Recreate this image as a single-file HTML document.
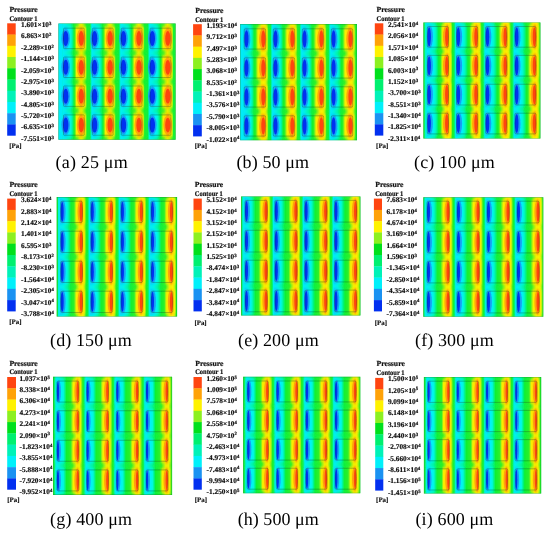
<!DOCTYPE html>
<html lang="en">
<head>
<meta charset="utf-8">
<title>Pressure contours</title>
<style>
html,body{margin:0;padding:0;background:#fff;}
body{width:550px;height:535px;overflow:hidden;}
svg{display:block;}
text{font-family:"Liberation Serif", "DejaVu Serif", serif;fill:#111;text-rendering:geometricPrecision;}
.t{font-weight:bold;font-size:7.7px;stroke:#111;stroke-width:0.2px;}
.l{font-weight:bold;font-size:7.3px;stroke:#111;stroke-width:0.18px;}
.s{font-size:4.8px;}
.t2{font-weight:bold;font-size:7.2px;stroke:#111;stroke-width:0.2px;}
.u{font-weight:bold;font-size:6.9px;stroke:#111;stroke-width:0.15px;}
.c{font-size:18px;fill:#000;}
</style>
</head>
<body>
<svg width="550" height="535" viewBox="0 0 550 535">
<defs>
<filter id="bl" x="-5%" y="-5%" width="110%" height="110%"><feGaussianBlur stdDeviation="0.75"/></filter>
<filter id="bv" x="-5%" y="-5%" width="110%" height="110%"><feGaussianBlur stdDeviation="0.3 1.5"/></filter>
<filter id="b2" x="-5%" y="-5%" width="110%" height="110%"><feGaussianBlur stdDeviation="0.45"/></filter>
<linearGradient id="ga" gradientUnits="userSpaceOnUse" x1="63.5" y1="0" x2="92.37" y2="0" spreadMethod="repeat"><stop offset="0" stop-color="#00e0ff"/><stop offset="0.08" stop-color="#00c8ff"/><stop offset="0.19" stop-color="#00f0ff"/><stop offset="0.26" stop-color="#00f8d8"/><stop offset="0.31" stop-color="#00f498"/><stop offset="0.37" stop-color="#10f030"/><stop offset="0.42" stop-color="#90f018"/><stop offset="0.45" stop-color="#f8f000"/><stop offset="0.54" stop-color="#ffd800"/><stop offset="0.61" stop-color="#ffa008"/><stop offset="0.69" stop-color="#ffd800"/><stop offset="0.75" stop-color="#f8f000"/><stop offset="0.78" stop-color="#a0f018"/><stop offset="0.81" stop-color="#18f030"/><stop offset="0.92" stop-color="#10f040"/><stop offset="0.95" stop-color="#00f8a0"/><stop offset="0.98" stop-color="#00f0f0"/><stop offset="1" stop-color="#00e0ff"/></linearGradient>
<linearGradient id="qa" gradientUnits="userSpaceOnUse" x1="63.5" y1="0" x2="92.37" y2="0" spreadMethod="repeat"><stop offset="0" stop-color="#00f0f0"/><stop offset="0.08" stop-color="#00f4e0"/><stop offset="0.24" stop-color="#00f4a8"/><stop offset="0.35" stop-color="#10f038"/><stop offset="0.47" stop-color="#50f020"/><stop offset="0.55" stop-color="#c0f008"/><stop offset="0.61" stop-color="#e8f000"/><stop offset="0.67" stop-color="#c0f008"/><stop offset="0.75" stop-color="#50f020"/><stop offset="0.8" stop-color="#18f030"/><stop offset="0.92" stop-color="#10f040"/><stop offset="0.95" stop-color="#00f8a0"/><stop offset="0.98" stop-color="#00f0e8"/><stop offset="1" stop-color="#00f0f0"/></linearGradient>
<clipPath id="ca"><rect x="58.4" y="23.4" width="117.2" height="116.3"/></clipPath>
<linearGradient id="gb" gradientUnits="userSpaceOnUse" x1="244.2" y1="0" x2="273.23" y2="0" spreadMethod="repeat"><stop offset="0" stop-color="#00d0ff"/><stop offset="0.09" stop-color="#10b0f8"/><stop offset="0.17" stop-color="#00e8ff"/><stop offset="0.23" stop-color="#00f8e0"/><stop offset="0.29" stop-color="#00f498"/><stop offset="0.34" stop-color="#10f030"/><stop offset="0.4" stop-color="#30f028"/><stop offset="0.44" stop-color="#a0f018"/><stop offset="0.48" stop-color="#f8f000"/><stop offset="0.56" stop-color="#ffd800"/><stop offset="0.61" stop-color="#ffa008"/><stop offset="0.65" stop-color="#ff8008"/><stop offset="0.73" stop-color="#ffc800"/><stop offset="0.77" stop-color="#f8f000"/><stop offset="0.81" stop-color="#a0f018"/><stop offset="0.84" stop-color="#18f030"/><stop offset="0.91" stop-color="#10f040"/><stop offset="0.93" stop-color="#00f8a0"/><stop offset="0.97" stop-color="#00f0f0"/><stop offset="1" stop-color="#00d0ff"/></linearGradient>
<linearGradient id="qb" gradientUnits="userSpaceOnUse" x1="244.2" y1="0" x2="273.23" y2="0" spreadMethod="repeat"><stop offset="0" stop-color="#00ecf8"/><stop offset="0.09" stop-color="#00f4e0"/><stop offset="0.22" stop-color="#00f4a0"/><stop offset="0.33" stop-color="#10f040"/><stop offset="0.46" stop-color="#30f028"/><stop offset="0.53" stop-color="#90f018"/><stop offset="0.6" stop-color="#f0f000"/><stop offset="0.68" stop-color="#fff000"/><stop offset="0.75" stop-color="#d8f008"/><stop offset="0.8" stop-color="#70f018"/><stop offset="0.84" stop-color="#20f028"/><stop offset="0.91" stop-color="#10f050"/><stop offset="0.93" stop-color="#00f490"/><stop offset="0.97" stop-color="#00f0e8"/><stop offset="1" stop-color="#00ecf8"/></linearGradient>
<clipPath id="cb"><rect x="240.1" y="24.1" width="116.9" height="116.2"/></clipPath>
<linearGradient id="gc" gradientUnits="userSpaceOnUse" x1="427.3" y1="0" x2="456.5" y2="0" spreadMethod="repeat"><stop offset="0" stop-color="#10b4f8"/><stop offset="0.12" stop-color="#00d8ff"/><stop offset="0.19" stop-color="#00f0ff"/><stop offset="0.27" stop-color="#00f8d0"/><stop offset="0.33" stop-color="#00f490"/><stop offset="0.39" stop-color="#10f030"/><stop offset="0.45" stop-color="#30f028"/><stop offset="0.49" stop-color="#a0f018"/><stop offset="0.53" stop-color="#f8f000"/><stop offset="0.61" stop-color="#ffd800"/><stop offset="0.65" stop-color="#ffa008"/><stop offset="0.69" stop-color="#ff7008"/><stop offset="0.74" stop-color="#ffd000"/><stop offset="0.79" stop-color="#f8f000"/><stop offset="0.83" stop-color="#a0f018"/><stop offset="0.86" stop-color="#20f028"/><stop offset="0.91" stop-color="#10f040"/><stop offset="0.94" stop-color="#00f490"/><stop offset="0.97" stop-color="#00f0e8"/><stop offset="1" stop-color="#10b4f8"/></linearGradient>
<linearGradient id="qc" gradientUnits="userSpaceOnUse" x1="427.3" y1="0" x2="456.5" y2="0" spreadMethod="repeat"><stop offset="0" stop-color="#00ecf8"/><stop offset="0.1" stop-color="#00f4e0"/><stop offset="0.26" stop-color="#00f4a0"/><stop offset="0.34" stop-color="#10f040"/><stop offset="0.49" stop-color="#30f028"/><stop offset="0.55" stop-color="#90f018"/><stop offset="0.62" stop-color="#f0f000"/><stop offset="0.73" stop-color="#fff000"/><stop offset="0.79" stop-color="#d8f008"/><stop offset="0.83" stop-color="#70f018"/><stop offset="0.86" stop-color="#20f028"/><stop offset="0.91" stop-color="#10f050"/><stop offset="0.94" stop-color="#00f490"/><stop offset="0.97" stop-color="#00f0e8"/><stop offset="1" stop-color="#00ecf8"/></linearGradient>
<clipPath id="cc"><rect x="423.4" y="22.4" width="117" height="116.2"/></clipPath>
<linearGradient id="gd" gradientUnits="userSpaceOnUse" x1="60.8" y1="0" x2="90.9" y2="0" spreadMethod="repeat"><stop offset="0" stop-color="#10b4f8"/><stop offset="0.11" stop-color="#00d8ff"/><stop offset="0.16" stop-color="#00f0ff"/><stop offset="0.23" stop-color="#00f8d0"/><stop offset="0.28" stop-color="#00f490"/><stop offset="0.34" stop-color="#10f030"/><stop offset="0.44" stop-color="#30f028"/><stop offset="0.48" stop-color="#a0f018"/><stop offset="0.52" stop-color="#f8f000"/><stop offset="0.6" stop-color="#ffd800"/><stop offset="0.64" stop-color="#ffa008"/><stop offset="0.67" stop-color="#ff7008"/><stop offset="0.72" stop-color="#ffd000"/><stop offset="0.78" stop-color="#f8f000"/><stop offset="0.81" stop-color="#a0f018"/><stop offset="0.84" stop-color="#20f028"/><stop offset="0.89" stop-color="#10f040"/><stop offset="0.92" stop-color="#00f490"/><stop offset="0.95" stop-color="#00f0e8"/><stop offset="1" stop-color="#10b4f8"/></linearGradient>
<linearGradient id="qd" gradientUnits="userSpaceOnUse" x1="60.8" y1="0" x2="90.9" y2="0" spreadMethod="repeat"><stop offset="0" stop-color="#00ecf8"/><stop offset="0.1" stop-color="#00f4e0"/><stop offset="0.22" stop-color="#00f4a0"/><stop offset="0.32" stop-color="#10f040"/><stop offset="0.48" stop-color="#30f028"/><stop offset="0.54" stop-color="#90f018"/><stop offset="0.61" stop-color="#f0f000"/><stop offset="0.71" stop-color="#fff000"/><stop offset="0.77" stop-color="#d8f008"/><stop offset="0.81" stop-color="#70f018"/><stop offset="0.84" stop-color="#20f028"/><stop offset="0.89" stop-color="#10f050"/><stop offset="0.92" stop-color="#00f490"/><stop offset="0.95" stop-color="#00f0e8"/><stop offset="1" stop-color="#00ecf8"/></linearGradient>
<clipPath id="cd"><rect x="56.7" y="197.1" width="120.4" height="119.4"/></clipPath>
<linearGradient id="ge" gradientUnits="userSpaceOnUse" x1="245.1" y1="0" x2="274.93" y2="0" spreadMethod="repeat"><stop offset="0" stop-color="#10b4f8"/><stop offset="0.11" stop-color="#00d8ff"/><stop offset="0.16" stop-color="#00f0ff"/><stop offset="0.23" stop-color="#00f8d0"/><stop offset="0.28" stop-color="#00f490"/><stop offset="0.35" stop-color="#10f030"/><stop offset="0.46" stop-color="#30f028"/><stop offset="0.5" stop-color="#a0f018"/><stop offset="0.54" stop-color="#f8f000"/><stop offset="0.62" stop-color="#ffd800"/><stop offset="0.66" stop-color="#ffa008"/><stop offset="0.7" stop-color="#ff7008"/><stop offset="0.75" stop-color="#ffd000"/><stop offset="0.79" stop-color="#f8f000"/><stop offset="0.83" stop-color="#a0f018"/><stop offset="0.86" stop-color="#20f028"/><stop offset="0.9" stop-color="#10f040"/><stop offset="0.92" stop-color="#00f490"/><stop offset="0.95" stop-color="#00f0e8"/><stop offset="1" stop-color="#10b4f8"/></linearGradient>
<linearGradient id="qe" gradientUnits="userSpaceOnUse" x1="245.1" y1="0" x2="274.93" y2="0" spreadMethod="repeat"><stop offset="0" stop-color="#00ecf8"/><stop offset="0.1" stop-color="#00f4e0"/><stop offset="0.22" stop-color="#00f4a0"/><stop offset="0.32" stop-color="#10f040"/><stop offset="0.5" stop-color="#30f028"/><stop offset="0.56" stop-color="#90f018"/><stop offset="0.63" stop-color="#f0f000"/><stop offset="0.73" stop-color="#fff000"/><stop offset="0.79" stop-color="#d8f008"/><stop offset="0.83" stop-color="#70f018"/><stop offset="0.86" stop-color="#20f028"/><stop offset="0.9" stop-color="#10f050"/><stop offset="0.93" stop-color="#00f490"/><stop offset="0.95" stop-color="#00f0e8"/><stop offset="1" stop-color="#00ecf8"/></linearGradient>
<clipPath id="ce"><rect x="241.1" y="196.5" width="119.3" height="118.9"/></clipPath>
<linearGradient id="gf" gradientUnits="userSpaceOnUse" x1="427.1" y1="0" x2="457.1" y2="0" spreadMethod="repeat"><stop offset="0" stop-color="#10b4f8"/><stop offset="0.11" stop-color="#00d8ff"/><stop offset="0.16" stop-color="#00f0ff"/><stop offset="0.23" stop-color="#00f8d0"/><stop offset="0.28" stop-color="#00f490"/><stop offset="0.34" stop-color="#10f030"/><stop offset="0.45" stop-color="#30f028"/><stop offset="0.5" stop-color="#a0f018"/><stop offset="0.54" stop-color="#f8f000"/><stop offset="0.62" stop-color="#ffd800"/><stop offset="0.66" stop-color="#ffa008"/><stop offset="0.69" stop-color="#ff7008"/><stop offset="0.74" stop-color="#ffd000"/><stop offset="0.79" stop-color="#f8f000"/><stop offset="0.83" stop-color="#a0f018"/><stop offset="0.86" stop-color="#20f028"/><stop offset="0.9" stop-color="#10f040"/><stop offset="0.92" stop-color="#00f490"/><stop offset="0.95" stop-color="#00f0e8"/><stop offset="1" stop-color="#10b4f8"/></linearGradient>
<linearGradient id="qf" gradientUnits="userSpaceOnUse" x1="427.1" y1="0" x2="457.1" y2="0" spreadMethod="repeat"><stop offset="0" stop-color="#00ecf8"/><stop offset="0.1" stop-color="#00f4e0"/><stop offset="0.22" stop-color="#00f4a0"/><stop offset="0.32" stop-color="#10f040"/><stop offset="0.49" stop-color="#30f028"/><stop offset="0.56" stop-color="#90f018"/><stop offset="0.63" stop-color="#f0f000"/><stop offset="0.73" stop-color="#fff000"/><stop offset="0.79" stop-color="#d8f008"/><stop offset="0.83" stop-color="#70f018"/><stop offset="0.86" stop-color="#20f028"/><stop offset="0.9" stop-color="#10f050"/><stop offset="0.93" stop-color="#00f490"/><stop offset="0.95" stop-color="#00f0e8"/><stop offset="1" stop-color="#00ecf8"/></linearGradient>
<clipPath id="cf"><rect x="423.3" y="197.3" width="120" height="119.5"/></clipPath>
<linearGradient id="gg" gradientUnits="userSpaceOnUse" x1="56.9" y1="0" x2="86.6" y2="0" spreadMethod="repeat"><stop offset="0" stop-color="#00d0ff"/><stop offset="0.08" stop-color="#00d8ff"/><stop offset="0.13" stop-color="#00f0ff"/><stop offset="0.22" stop-color="#00f8e0"/><stop offset="0.27" stop-color="#00f490"/><stop offset="0.32" stop-color="#10f030"/><stop offset="0.47" stop-color="#30f028"/><stop offset="0.51" stop-color="#a0f018"/><stop offset="0.55" stop-color="#f8f000"/><stop offset="0.63" stop-color="#ffd800"/><stop offset="0.67" stop-color="#ffa008"/><stop offset="0.7" stop-color="#ff7008"/><stop offset="0.75" stop-color="#ffd000"/><stop offset="0.79" stop-color="#f8f000"/><stop offset="0.83" stop-color="#90f018"/><stop offset="0.87" stop-color="#20f028"/><stop offset="0.91" stop-color="#10f050"/><stop offset="0.94" stop-color="#00f4c0"/><stop offset="0.97" stop-color="#00f0f0"/><stop offset="1" stop-color="#00d0ff"/></linearGradient>
<linearGradient id="qg" gradientUnits="userSpaceOnUse" x1="56.9" y1="0" x2="86.6" y2="0" spreadMethod="repeat"><stop offset="0" stop-color="#00f0f0"/><stop offset="0.08" stop-color="#00f4d0"/><stop offset="0.2" stop-color="#00f4a0"/><stop offset="0.32" stop-color="#10f040"/><stop offset="0.52" stop-color="#30f028"/><stop offset="0.59" stop-color="#90f018"/><stop offset="0.66" stop-color="#f0f000"/><stop offset="0.76" stop-color="#f4f000"/><stop offset="0.82" stop-color="#80f018"/><stop offset="0.87" stop-color="#20f028"/><stop offset="0.92" stop-color="#10f060"/><stop offset="0.95" stop-color="#00f4c0"/><stop offset="1" stop-color="#00f0f0"/></linearGradient>
<clipPath id="cg"><rect x="53" y="376.8" width="119.1" height="118.1"/></clipPath>
<linearGradient id="gh" gradientUnits="userSpaceOnUse" x1="247.1" y1="0" x2="276.37" y2="0" spreadMethod="repeat"><stop offset="0" stop-color="#00d0ff"/><stop offset="0.09" stop-color="#00d8ff"/><stop offset="0.14" stop-color="#00f0ff"/><stop offset="0.22" stop-color="#00f8e0"/><stop offset="0.27" stop-color="#00f490"/><stop offset="0.32" stop-color="#10f030"/><stop offset="0.45" stop-color="#30f028"/><stop offset="0.5" stop-color="#a0f018"/><stop offset="0.53" stop-color="#f8f000"/><stop offset="0.62" stop-color="#ffd800"/><stop offset="0.65" stop-color="#ffa008"/><stop offset="0.69" stop-color="#ff7008"/><stop offset="0.73" stop-color="#ffd000"/><stop offset="0.78" stop-color="#f8f000"/><stop offset="0.83" stop-color="#90f018"/><stop offset="0.86" stop-color="#20f028"/><stop offset="0.91" stop-color="#10f050"/><stop offset="0.94" stop-color="#00f4c0"/><stop offset="0.97" stop-color="#00f0f0"/><stop offset="1" stop-color="#00d0ff"/></linearGradient>
<linearGradient id="qh" gradientUnits="userSpaceOnUse" x1="247.1" y1="0" x2="276.37" y2="0" spreadMethod="repeat"><stop offset="0" stop-color="#00f0f0"/><stop offset="0.09" stop-color="#00f4d0"/><stop offset="0.2" stop-color="#00f4a0"/><stop offset="0.32" stop-color="#10f040"/><stop offset="0.51" stop-color="#30f028"/><stop offset="0.57" stop-color="#90f018"/><stop offset="0.64" stop-color="#f0f000"/><stop offset="0.75" stop-color="#f4f000"/><stop offset="0.81" stop-color="#80f018"/><stop offset="0.86" stop-color="#20f028"/><stop offset="0.92" stop-color="#10f060"/><stop offset="0.95" stop-color="#00f4c0"/><stop offset="1" stop-color="#00f0f0"/></linearGradient>
<clipPath id="ch"><rect x="243.1" y="376.8" width="117.2" height="116.5"/></clipPath>
<linearGradient id="gi" gradientUnits="userSpaceOnUse" x1="427.5" y1="0" x2="456.7" y2="0" spreadMethod="repeat"><stop offset="0" stop-color="#00d0ff"/><stop offset="0.09" stop-color="#00d8ff"/><stop offset="0.14" stop-color="#00f0ff"/><stop offset="0.22" stop-color="#00f8e0"/><stop offset="0.27" stop-color="#00f490"/><stop offset="0.33" stop-color="#10f030"/><stop offset="0.48" stop-color="#30f028"/><stop offset="0.52" stop-color="#a0f018"/><stop offset="0.55" stop-color="#f8f000"/><stop offset="0.64" stop-color="#ffd800"/><stop offset="0.67" stop-color="#ffa008"/><stop offset="0.71" stop-color="#ff7008"/><stop offset="0.76" stop-color="#ffd000"/><stop offset="0.8" stop-color="#f8f000"/><stop offset="0.84" stop-color="#90f018"/><stop offset="0.87" stop-color="#20f028"/><stop offset="0.92" stop-color="#10f050"/><stop offset="0.95" stop-color="#00f4c0"/><stop offset="0.97" stop-color="#00f0f0"/><stop offset="1" stop-color="#00d0ff"/></linearGradient>
<linearGradient id="qi" gradientUnits="userSpaceOnUse" x1="427.5" y1="0" x2="456.7" y2="0" spreadMethod="repeat"><stop offset="0" stop-color="#00f0f0"/><stop offset="0.09" stop-color="#00f4d0"/><stop offset="0.21" stop-color="#00f4a0"/><stop offset="0.33" stop-color="#10f040"/><stop offset="0.53" stop-color="#30f028"/><stop offset="0.6" stop-color="#90f018"/><stop offset="0.66" stop-color="#f0f000"/><stop offset="0.77" stop-color="#f4f000"/><stop offset="0.83" stop-color="#80f018"/><stop offset="0.87" stop-color="#20f028"/><stop offset="0.92" stop-color="#10f060"/><stop offset="0.95" stop-color="#00f4c0"/><stop offset="1" stop-color="#00f0f0"/></linearGradient>
<clipPath id="ci"><rect x="423.9" y="377" width="117.3" height="116.6"/></clipPath>
</defs>
<rect width="550" height="535" fill="#fff"/>
<g id="panel-a">
<text class="t" x="9.4" y="12.4">Pressure</text>
<text class="t2" x="9.4" y="21" textLength="28" lengthAdjust="spacingAndGlyphs">Contour 1</text>
<rect x="7.2" y="23.3" width="8.5" height="11.54" fill="#ff4510"/><rect x="7.2" y="34.54" width="8.5" height="11.54" fill="#ffa208"/><rect x="7.2" y="45.78" width="8.5" height="11.54" fill="#fff200"/><rect x="7.2" y="57.02" width="8.5" height="11.54" fill="#8cf020"/><rect x="7.2" y="68.26" width="8.5" height="11.54" fill="#00e01c"/><rect x="7.2" y="79.5" width="8.5" height="11.54" fill="#00f070"/><rect x="7.2" y="90.74" width="8.5" height="11.54" fill="#00f2b8"/><rect x="7.2" y="101.98" width="8.5" height="11.54" fill="#00f0fa"/><rect x="7.2" y="113.22" width="8.5" height="11.54" fill="#1a92f2"/><rect x="7.2" y="124.46" width="8.5" height="11.24" fill="#0230f0"/>
<text class="l" x="21.1" y="27.1">1.601×10<tspan class="s" dy="-2.1">3</tspan></text><text class="l" x="21.1" y="38.46">6.863×10<tspan class="s" dy="-2.1">2</tspan></text><text class="l" x="21.1" y="49.82">-2.289×10<tspan class="s" dy="-2.1">2</tspan></text><text class="l" x="21.1" y="61.18">-1.144×10<tspan class="s" dy="-2.1">3</tspan></text><text class="l" x="21.1" y="72.54">-2.059×10<tspan class="s" dy="-2.1">3</tspan></text><text class="l" x="21.1" y="83.9">-2.975×10<tspan class="s" dy="-2.1">3</tspan></text><text class="l" x="21.1" y="95.26">-3.890×10<tspan class="s" dy="-2.1">3</tspan></text><text class="l" x="21.1" y="106.62">-4.805×10<tspan class="s" dy="-2.1">3</tspan></text><text class="l" x="21.1" y="117.98">-5.720×10<tspan class="s" dy="-2.1">3</tspan></text><text class="l" x="21.1" y="129.34">-6.635×10<tspan class="s" dy="-2.1">3</tspan></text><text class="l" x="21.1" y="140.7">-7.551×10<tspan class="s" dy="-2.1">3</tspan></text>
<text class="u" x="9.2" y="147.8">[Pa]</text>
<g clip-path="url(#ca)"><g filter="url(#bl)"><rect x="55.4" y="20.4" width="123.2" height="122.3" fill="url(#qa)"/><g filter="url(#bv)"><rect x="55.4" y="27" width="123.2" height="22.8" fill="url(#ga)"/><rect x="55.4" y="55.9" width="123.2" height="22.8" fill="url(#ga)"/><rect x="55.4" y="84.8" width="123.2" height="22.8" fill="url(#ga)"/><rect x="55.4" y="113.7" width="123.2" height="22.8" fill="url(#ga)"/></g><rect x="55.4" y="20.4" width="7.3" height="122.3" fill="#00ecf8"/><ellipse cx="65.7" cy="38.4" rx="4.3" ry="9.5" fill="#18a0f4"/><ellipse cx="65.7" cy="38.4" rx="2.7" ry="7.5" fill="#0230f0"/><ellipse cx="81.2" cy="38.4" rx="4.4" ry="9.6" fill="#ffa208"/><ellipse cx="81.2" cy="38.4" rx="2.6" ry="7.4" fill="#ff4510"/><ellipse cx="94.57" cy="38.4" rx="4.3" ry="9.5" fill="#18a0f4"/><ellipse cx="94.57" cy="38.4" rx="2.7" ry="7.5" fill="#0230f0"/><ellipse cx="110.07" cy="38.4" rx="4.4" ry="9.6" fill="#ffa208"/><ellipse cx="110.07" cy="38.4" rx="2.6" ry="7.4" fill="#ff4510"/><ellipse cx="123.44" cy="38.4" rx="4.3" ry="9.5" fill="#18a0f4"/><ellipse cx="123.44" cy="38.4" rx="2.7" ry="7.5" fill="#0230f0"/><ellipse cx="138.94" cy="38.4" rx="4.4" ry="9.6" fill="#ffa208"/><ellipse cx="138.94" cy="38.4" rx="2.6" ry="7.4" fill="#ff4510"/><ellipse cx="152.31" cy="38.4" rx="4.3" ry="9.5" fill="#18a0f4"/><ellipse cx="152.31" cy="38.4" rx="2.7" ry="7.5" fill="#0230f0"/><ellipse cx="167.81" cy="38.4" rx="4.4" ry="9.6" fill="#ffa208"/><ellipse cx="167.81" cy="38.4" rx="2.6" ry="7.4" fill="#ff4510"/><ellipse cx="65.7" cy="67.3" rx="4.3" ry="9.5" fill="#18a0f4"/><ellipse cx="65.7" cy="67.3" rx="2.7" ry="7.5" fill="#0230f0"/><ellipse cx="81.2" cy="67.3" rx="4.4" ry="9.6" fill="#ffa208"/><ellipse cx="81.2" cy="67.3" rx="2.6" ry="7.4" fill="#ff4510"/><ellipse cx="94.57" cy="67.3" rx="4.3" ry="9.5" fill="#18a0f4"/><ellipse cx="94.57" cy="67.3" rx="2.7" ry="7.5" fill="#0230f0"/><ellipse cx="110.07" cy="67.3" rx="4.4" ry="9.6" fill="#ffa208"/><ellipse cx="110.07" cy="67.3" rx="2.6" ry="7.4" fill="#ff4510"/><ellipse cx="123.44" cy="67.3" rx="4.3" ry="9.5" fill="#18a0f4"/><ellipse cx="123.44" cy="67.3" rx="2.7" ry="7.5" fill="#0230f0"/><ellipse cx="138.94" cy="67.3" rx="4.4" ry="9.6" fill="#ffa208"/><ellipse cx="138.94" cy="67.3" rx="2.6" ry="7.4" fill="#ff4510"/><ellipse cx="152.31" cy="67.3" rx="4.3" ry="9.5" fill="#18a0f4"/><ellipse cx="152.31" cy="67.3" rx="2.7" ry="7.5" fill="#0230f0"/><ellipse cx="167.81" cy="67.3" rx="4.4" ry="9.6" fill="#ffa208"/><ellipse cx="167.81" cy="67.3" rx="2.6" ry="7.4" fill="#ff4510"/><ellipse cx="65.7" cy="96.2" rx="4.3" ry="9.5" fill="#18a0f4"/><ellipse cx="65.7" cy="96.2" rx="2.7" ry="7.5" fill="#0230f0"/><ellipse cx="81.2" cy="96.2" rx="4.4" ry="9.6" fill="#ffa208"/><ellipse cx="81.2" cy="96.2" rx="2.6" ry="7.4" fill="#ff4510"/><ellipse cx="94.57" cy="96.2" rx="4.3" ry="9.5" fill="#18a0f4"/><ellipse cx="94.57" cy="96.2" rx="2.7" ry="7.5" fill="#0230f0"/><ellipse cx="110.07" cy="96.2" rx="4.4" ry="9.6" fill="#ffa208"/><ellipse cx="110.07" cy="96.2" rx="2.6" ry="7.4" fill="#ff4510"/><ellipse cx="123.44" cy="96.2" rx="4.3" ry="9.5" fill="#18a0f4"/><ellipse cx="123.44" cy="96.2" rx="2.7" ry="7.5" fill="#0230f0"/><ellipse cx="138.94" cy="96.2" rx="4.4" ry="9.6" fill="#ffa208"/><ellipse cx="138.94" cy="96.2" rx="2.6" ry="7.4" fill="#ff4510"/><ellipse cx="152.31" cy="96.2" rx="4.3" ry="9.5" fill="#18a0f4"/><ellipse cx="152.31" cy="96.2" rx="2.7" ry="7.5" fill="#0230f0"/><ellipse cx="167.81" cy="96.2" rx="4.4" ry="9.6" fill="#ffa208"/><ellipse cx="167.81" cy="96.2" rx="2.6" ry="7.4" fill="#ff4510"/><ellipse cx="65.7" cy="125.1" rx="4.3" ry="9.5" fill="#18a0f4"/><ellipse cx="65.7" cy="125.1" rx="2.7" ry="7.5" fill="#0230f0"/><ellipse cx="81.2" cy="125.1" rx="4.4" ry="9.6" fill="#ffa208"/><ellipse cx="81.2" cy="125.1" rx="2.6" ry="7.4" fill="#ff4510"/><ellipse cx="94.57" cy="125.1" rx="4.3" ry="9.5" fill="#18a0f4"/><ellipse cx="94.57" cy="125.1" rx="2.7" ry="7.5" fill="#0230f0"/><ellipse cx="110.07" cy="125.1" rx="4.4" ry="9.6" fill="#ffa208"/><ellipse cx="110.07" cy="125.1" rx="2.6" ry="7.4" fill="#ff4510"/><ellipse cx="123.44" cy="125.1" rx="4.3" ry="9.5" fill="#18a0f4"/><ellipse cx="123.44" cy="125.1" rx="2.7" ry="7.5" fill="#0230f0"/><ellipse cx="138.94" cy="125.1" rx="4.4" ry="9.6" fill="#ffa208"/><ellipse cx="138.94" cy="125.1" rx="2.6" ry="7.4" fill="#ff4510"/><ellipse cx="152.31" cy="125.1" rx="4.3" ry="9.5" fill="#18a0f4"/><ellipse cx="152.31" cy="125.1" rx="2.7" ry="7.5" fill="#0230f0"/><ellipse cx="167.81" cy="125.1" rx="4.4" ry="9.6" fill="#ffa208"/><ellipse cx="167.81" cy="125.1" rx="2.6" ry="7.4" fill="#ff4510"/></g>
<rect x="58.4" y="23.4" width="117.2" height="116.3" fill="none" stroke="#108828" stroke-opacity="0.6" stroke-width="1"/><g fill="none" stroke="#1a3a20" stroke-opacity="0.62" stroke-width="0.5" filter="url(#b2)"><rect x="63.5" y="28.2" width="20.8" height="20.4" rx="0.8"/><rect x="92.37" y="28.2" width="20.8" height="20.4" rx="0.8"/><rect x="121.24" y="28.2" width="20.8" height="20.4" rx="0.8"/><rect x="150.11" y="28.2" width="20.8" height="20.4" rx="0.8"/><rect x="63.5" y="57.1" width="20.8" height="20.4" rx="0.8"/><rect x="92.37" y="57.1" width="20.8" height="20.4" rx="0.8"/><rect x="121.24" y="57.1" width="20.8" height="20.4" rx="0.8"/><rect x="150.11" y="57.1" width="20.8" height="20.4" rx="0.8"/><rect x="63.5" y="86" width="20.8" height="20.4" rx="0.8"/><rect x="92.37" y="86" width="20.8" height="20.4" rx="0.8"/><rect x="121.24" y="86" width="20.8" height="20.4" rx="0.8"/><rect x="150.11" y="86" width="20.8" height="20.4" rx="0.8"/><rect x="63.5" y="114.9" width="20.8" height="20.4" rx="0.8"/><rect x="92.37" y="114.9" width="20.8" height="20.4" rx="0.8"/><rect x="121.24" y="114.9" width="20.8" height="20.4" rx="0.8"/><rect x="150.11" y="114.9" width="20.8" height="20.4" rx="0.8"/></g></g>
<text class="c" x="55.5" y="168" textLength="72.2" lengthAdjust="spacing">(a) 25 μm</text>
</g>
<g id="panel-b">
<text class="t" x="195.2" y="13.1">Pressure</text>
<text class="t2" x="195.2" y="21.6" textLength="28" lengthAdjust="spacingAndGlyphs">Contour 1</text>
<rect x="193.1" y="24.2" width="8.7" height="11.52" fill="#ff4510"/><rect x="193.1" y="35.42" width="8.7" height="11.52" fill="#ffa208"/><rect x="193.1" y="46.64" width="8.7" height="11.52" fill="#fff200"/><rect x="193.1" y="57.86" width="8.7" height="11.52" fill="#8cf020"/><rect x="193.1" y="69.08" width="8.7" height="11.52" fill="#00e01c"/><rect x="193.1" y="80.3" width="8.7" height="11.52" fill="#00f070"/><rect x="193.1" y="91.52" width="8.7" height="11.52" fill="#00f2b8"/><rect x="193.1" y="102.74" width="8.7" height="11.52" fill="#00f0fa"/><rect x="193.1" y="113.96" width="8.7" height="11.52" fill="#1a92f2"/><rect x="193.1" y="125.18" width="8.7" height="11.22" fill="#0230f0"/>
<text class="l" x="206.6" y="27.9">1.193×10<tspan class="s" dy="-2.1">4</tspan></text><text class="l" x="206.6" y="39.26">9.712×10<tspan class="s" dy="-2.1">3</tspan></text><text class="l" x="206.6" y="50.62">7.497×10<tspan class="s" dy="-2.1">3</tspan></text><text class="l" x="206.6" y="61.98">5.283×10<tspan class="s" dy="-2.1">3</tspan></text><text class="l" x="206.6" y="73.34">3.068×10<tspan class="s" dy="-2.1">3</tspan></text><text class="l" x="206.6" y="84.7">8.535×10<tspan class="s" dy="-2.1">2</tspan></text><text class="l" x="206.6" y="96.06">-1.361×10<tspan class="s" dy="-2.1">3</tspan></text><text class="l" x="206.6" y="107.42">-3.576×10<tspan class="s" dy="-2.1">3</tspan></text><text class="l" x="206.6" y="118.78">-5.790×10<tspan class="s" dy="-2.1">3</tspan></text><text class="l" x="206.6" y="130.14">-8.005×10<tspan class="s" dy="-2.1">3</tspan></text><text class="l" x="206.6" y="141.5">-1.022×10<tspan class="s" dy="-2.1">4</tspan></text>
<text class="u" x="194.8" y="148.4">[Pa]</text>
<g clip-path="url(#cb)"><g filter="url(#bl)"><rect x="237.1" y="21.1" width="122.9" height="122.2" fill="url(#qb)"/><g filter="url(#bv)"><rect x="237.1" y="27.6" width="122.9" height="22.7" fill="url(#gb)"/><rect x="237.1" y="56.6" width="122.9" height="22.7" fill="url(#gb)"/><rect x="237.1" y="85.6" width="122.9" height="22.7" fill="url(#gb)"/><rect x="237.1" y="114.6" width="122.9" height="22.7" fill="url(#gb)"/></g><rect x="237.1" y="21.1" width="6.3" height="122.2" fill="#00ecf8"/><ellipse cx="247" cy="38.95" rx="3.35" ry="10" fill="#18a0f4"/><ellipse cx="246.5" cy="38.95" rx="2" ry="8.6" fill="#0230f0"/><ellipse cx="262.8" cy="38.95" rx="3.55" ry="10" fill="#ffa208"/><ellipse cx="263.3" cy="38.95" rx="2" ry="8.6" fill="#ff4510"/><ellipse cx="276.03" cy="38.95" rx="3.35" ry="10" fill="#18a0f4"/><ellipse cx="275.53" cy="38.95" rx="2" ry="8.6" fill="#0230f0"/><ellipse cx="291.83" cy="38.95" rx="3.55" ry="10" fill="#ffa208"/><ellipse cx="292.33" cy="38.95" rx="2" ry="8.6" fill="#ff4510"/><ellipse cx="305.06" cy="38.95" rx="3.35" ry="10" fill="#18a0f4"/><ellipse cx="304.56" cy="38.95" rx="2" ry="8.6" fill="#0230f0"/><ellipse cx="320.86" cy="38.95" rx="3.55" ry="10" fill="#ffa208"/><ellipse cx="321.36" cy="38.95" rx="2" ry="8.6" fill="#ff4510"/><ellipse cx="334.09" cy="38.95" rx="3.35" ry="10" fill="#18a0f4"/><ellipse cx="333.59" cy="38.95" rx="2" ry="8.6" fill="#0230f0"/><ellipse cx="349.89" cy="38.95" rx="3.55" ry="10" fill="#ffa208"/><ellipse cx="350.39" cy="38.95" rx="2" ry="8.6" fill="#ff4510"/><ellipse cx="247" cy="67.95" rx="3.35" ry="10" fill="#18a0f4"/><ellipse cx="246.5" cy="67.95" rx="2" ry="8.6" fill="#0230f0"/><ellipse cx="262.8" cy="67.95" rx="3.55" ry="10" fill="#ffa208"/><ellipse cx="263.3" cy="67.95" rx="2" ry="8.6" fill="#ff4510"/><ellipse cx="276.03" cy="67.95" rx="3.35" ry="10" fill="#18a0f4"/><ellipse cx="275.53" cy="67.95" rx="2" ry="8.6" fill="#0230f0"/><ellipse cx="291.83" cy="67.95" rx="3.55" ry="10" fill="#ffa208"/><ellipse cx="292.33" cy="67.95" rx="2" ry="8.6" fill="#ff4510"/><ellipse cx="305.06" cy="67.95" rx="3.35" ry="10" fill="#18a0f4"/><ellipse cx="304.56" cy="67.95" rx="2" ry="8.6" fill="#0230f0"/><ellipse cx="320.86" cy="67.95" rx="3.55" ry="10" fill="#ffa208"/><ellipse cx="321.36" cy="67.95" rx="2" ry="8.6" fill="#ff4510"/><ellipse cx="334.09" cy="67.95" rx="3.35" ry="10" fill="#18a0f4"/><ellipse cx="333.59" cy="67.95" rx="2" ry="8.6" fill="#0230f0"/><ellipse cx="349.89" cy="67.95" rx="3.55" ry="10" fill="#ffa208"/><ellipse cx="350.39" cy="67.95" rx="2" ry="8.6" fill="#ff4510"/><ellipse cx="247" cy="96.95" rx="3.35" ry="10" fill="#18a0f4"/><ellipse cx="246.5" cy="96.95" rx="2" ry="8.6" fill="#0230f0"/><ellipse cx="262.8" cy="96.95" rx="3.55" ry="10" fill="#ffa208"/><ellipse cx="263.3" cy="96.95" rx="2" ry="8.6" fill="#ff4510"/><ellipse cx="276.03" cy="96.95" rx="3.35" ry="10" fill="#18a0f4"/><ellipse cx="275.53" cy="96.95" rx="2" ry="8.6" fill="#0230f0"/><ellipse cx="291.83" cy="96.95" rx="3.55" ry="10" fill="#ffa208"/><ellipse cx="292.33" cy="96.95" rx="2" ry="8.6" fill="#ff4510"/><ellipse cx="305.06" cy="96.95" rx="3.35" ry="10" fill="#18a0f4"/><ellipse cx="304.56" cy="96.95" rx="2" ry="8.6" fill="#0230f0"/><ellipse cx="320.86" cy="96.95" rx="3.55" ry="10" fill="#ffa208"/><ellipse cx="321.36" cy="96.95" rx="2" ry="8.6" fill="#ff4510"/><ellipse cx="334.09" cy="96.95" rx="3.35" ry="10" fill="#18a0f4"/><ellipse cx="333.59" cy="96.95" rx="2" ry="8.6" fill="#0230f0"/><ellipse cx="349.89" cy="96.95" rx="3.55" ry="10" fill="#ffa208"/><ellipse cx="350.39" cy="96.95" rx="2" ry="8.6" fill="#ff4510"/><ellipse cx="247" cy="125.95" rx="3.35" ry="10" fill="#18a0f4"/><ellipse cx="246.5" cy="125.95" rx="2" ry="8.6" fill="#0230f0"/><ellipse cx="262.8" cy="125.95" rx="3.55" ry="10" fill="#ffa208"/><ellipse cx="263.3" cy="125.95" rx="2" ry="8.6" fill="#ff4510"/><ellipse cx="276.03" cy="125.95" rx="3.35" ry="10" fill="#18a0f4"/><ellipse cx="275.53" cy="125.95" rx="2" ry="8.6" fill="#0230f0"/><ellipse cx="291.83" cy="125.95" rx="3.55" ry="10" fill="#ffa208"/><ellipse cx="292.33" cy="125.95" rx="2" ry="8.6" fill="#ff4510"/><ellipse cx="305.06" cy="125.95" rx="3.35" ry="10" fill="#18a0f4"/><ellipse cx="304.56" cy="125.95" rx="2" ry="8.6" fill="#0230f0"/><ellipse cx="320.86" cy="125.95" rx="3.55" ry="10" fill="#ffa208"/><ellipse cx="321.36" cy="125.95" rx="2" ry="8.6" fill="#ff4510"/><ellipse cx="334.09" cy="125.95" rx="3.35" ry="10" fill="#18a0f4"/><ellipse cx="333.59" cy="125.95" rx="2" ry="8.6" fill="#0230f0"/><ellipse cx="349.89" cy="125.95" rx="3.55" ry="10" fill="#ffa208"/><ellipse cx="350.39" cy="125.95" rx="2" ry="8.6" fill="#ff4510"/></g>
<rect x="240.1" y="24.1" width="116.9" height="116.2" fill="none" stroke="#108828" stroke-opacity="0.6" stroke-width="1"/><g fill="none" stroke="#1a3a20" stroke-opacity="0.62" stroke-width="0.5" filter="url(#b2)"><rect x="244.2" y="28.8" width="21.5" height="20.3" rx="1.2"/><rect x="273.23" y="28.8" width="21.5" height="20.3" rx="1.2"/><rect x="302.26" y="28.8" width="21.5" height="20.3" rx="1.2"/><rect x="331.29" y="28.8" width="21.5" height="20.3" rx="1.2"/><rect x="244.2" y="57.8" width="21.5" height="20.3" rx="1.2"/><rect x="273.23" y="57.8" width="21.5" height="20.3" rx="1.2"/><rect x="302.26" y="57.8" width="21.5" height="20.3" rx="1.2"/><rect x="331.29" y="57.8" width="21.5" height="20.3" rx="1.2"/><rect x="244.2" y="86.8" width="21.5" height="20.3" rx="1.2"/><rect x="273.23" y="86.8" width="21.5" height="20.3" rx="1.2"/><rect x="302.26" y="86.8" width="21.5" height="20.3" rx="1.2"/><rect x="331.29" y="86.8" width="21.5" height="20.3" rx="1.2"/><rect x="244.2" y="115.8" width="21.5" height="20.3" rx="1.2"/><rect x="273.23" y="115.8" width="21.5" height="20.3" rx="1.2"/><rect x="302.26" y="115.8" width="21.5" height="20.3" rx="1.2"/><rect x="331.29" y="115.8" width="21.5" height="20.3" rx="1.2"/></g></g>
<text class="c" x="236.5" y="168" textLength="72.6" lengthAdjust="spacing">(b) 50 μm</text>
</g>
<g id="panel-c">
<text class="t" x="376.5" y="12.4">Pressure</text>
<text class="t2" x="376.5" y="21" textLength="28" lengthAdjust="spacingAndGlyphs">Contour 1</text>
<rect x="374.8" y="23.3" width="8.5" height="11.53" fill="#ff4510"/><rect x="374.8" y="34.53" width="8.5" height="11.53" fill="#ffa208"/><rect x="374.8" y="45.76" width="8.5" height="11.53" fill="#fff200"/><rect x="374.8" y="56.99" width="8.5" height="11.53" fill="#8cf020"/><rect x="374.8" y="68.22" width="8.5" height="11.53" fill="#00e01c"/><rect x="374.8" y="79.45" width="8.5" height="11.53" fill="#00f070"/><rect x="374.8" y="90.68" width="8.5" height="11.53" fill="#00f2b8"/><rect x="374.8" y="101.91" width="8.5" height="11.53" fill="#00f0fa"/><rect x="374.8" y="113.14" width="8.5" height="11.53" fill="#1a92f2"/><rect x="374.8" y="124.37" width="8.5" height="11.23" fill="#0230f0"/>
<text class="l" x="387.9" y="27.1">2.541×10<tspan class="s" dy="-2.1">4</tspan></text><text class="l" x="387.9" y="38.46">2.056×10<tspan class="s" dy="-2.1">4</tspan></text><text class="l" x="387.9" y="49.82">1.571×10<tspan class="s" dy="-2.1">4</tspan></text><text class="l" x="387.9" y="61.18">1.085×10<tspan class="s" dy="-2.1">4</tspan></text><text class="l" x="387.9" y="72.54">6.003×10<tspan class="s" dy="-2.1">3</tspan></text><text class="l" x="387.9" y="83.9">1.152×10<tspan class="s" dy="-2.1">3</tspan></text><text class="l" x="387.9" y="95.26">-3.700×10<tspan class="s" dy="-2.1">3</tspan></text><text class="l" x="387.9" y="106.62">-8.551×10<tspan class="s" dy="-2.1">3</tspan></text><text class="l" x="387.9" y="117.98">-1.340×10<tspan class="s" dy="-2.1">4</tspan></text><text class="l" x="387.9" y="129.34">-1.825×10<tspan class="s" dy="-2.1">4</tspan></text><text class="l" x="387.9" y="140.7">-2.311×10<tspan class="s" dy="-2.1">4</tspan></text>
<text class="u" x="376.1" y="147.8">[Pa]</text>
<g clip-path="url(#cc)"><g filter="url(#bl)"><rect x="420.4" y="19.4" width="123" height="122.2" fill="url(#qc)"/><g filter="url(#bv)"><rect x="420.4" y="25.3" width="123" height="23.1" fill="url(#gc)"/><rect x="420.4" y="54.2" width="123" height="23.1" fill="url(#gc)"/><rect x="420.4" y="83.1" width="123" height="23.1" fill="url(#gc)"/><rect x="420.4" y="112" width="123" height="23.1" fill="url(#gc)"/></g><rect x="424.8" y="19.4" width="1.7" height="122.2" fill="#00f4d0"/><ellipse cx="429.9" cy="36.85" rx="3" ry="10.6" fill="#18a0f4"/><ellipse cx="429.1" cy="36.85" rx="1.8" ry="9.6" fill="#0230f0"/><ellipse cx="446" cy="36.85" rx="3" ry="10.6" fill="#ffa208"/><ellipse cx="446.8" cy="36.85" rx="1.7" ry="9.6" fill="#ff4510"/><ellipse cx="459.1" cy="36.85" rx="3" ry="10.6" fill="#18a0f4"/><ellipse cx="458.3" cy="36.85" rx="1.8" ry="9.6" fill="#0230f0"/><ellipse cx="475.2" cy="36.85" rx="3" ry="10.6" fill="#ffa208"/><ellipse cx="476" cy="36.85" rx="1.7" ry="9.6" fill="#ff4510"/><ellipse cx="488.3" cy="36.85" rx="3" ry="10.6" fill="#18a0f4"/><ellipse cx="487.5" cy="36.85" rx="1.8" ry="9.6" fill="#0230f0"/><ellipse cx="504.4" cy="36.85" rx="3" ry="10.6" fill="#ffa208"/><ellipse cx="505.2" cy="36.85" rx="1.7" ry="9.6" fill="#ff4510"/><ellipse cx="517.5" cy="36.85" rx="3" ry="10.6" fill="#18a0f4"/><ellipse cx="516.7" cy="36.85" rx="1.8" ry="9.6" fill="#0230f0"/><ellipse cx="533.6" cy="36.85" rx="3" ry="10.6" fill="#ffa208"/><ellipse cx="534.4" cy="36.85" rx="1.7" ry="9.6" fill="#ff4510"/><ellipse cx="429.9" cy="65.75" rx="3" ry="10.6" fill="#18a0f4"/><ellipse cx="429.1" cy="65.75" rx="1.8" ry="9.6" fill="#0230f0"/><ellipse cx="446" cy="65.75" rx="3" ry="10.6" fill="#ffa208"/><ellipse cx="446.8" cy="65.75" rx="1.7" ry="9.6" fill="#ff4510"/><ellipse cx="459.1" cy="65.75" rx="3" ry="10.6" fill="#18a0f4"/><ellipse cx="458.3" cy="65.75" rx="1.8" ry="9.6" fill="#0230f0"/><ellipse cx="475.2" cy="65.75" rx="3" ry="10.6" fill="#ffa208"/><ellipse cx="476" cy="65.75" rx="1.7" ry="9.6" fill="#ff4510"/><ellipse cx="488.3" cy="65.75" rx="3" ry="10.6" fill="#18a0f4"/><ellipse cx="487.5" cy="65.75" rx="1.8" ry="9.6" fill="#0230f0"/><ellipse cx="504.4" cy="65.75" rx="3" ry="10.6" fill="#ffa208"/><ellipse cx="505.2" cy="65.75" rx="1.7" ry="9.6" fill="#ff4510"/><ellipse cx="517.5" cy="65.75" rx="3" ry="10.6" fill="#18a0f4"/><ellipse cx="516.7" cy="65.75" rx="1.8" ry="9.6" fill="#0230f0"/><ellipse cx="533.6" cy="65.75" rx="3" ry="10.6" fill="#ffa208"/><ellipse cx="534.4" cy="65.75" rx="1.7" ry="9.6" fill="#ff4510"/><ellipse cx="429.9" cy="94.65" rx="3" ry="10.6" fill="#18a0f4"/><ellipse cx="429.1" cy="94.65" rx="1.8" ry="9.6" fill="#0230f0"/><ellipse cx="446" cy="94.65" rx="3" ry="10.6" fill="#ffa208"/><ellipse cx="446.8" cy="94.65" rx="1.7" ry="9.6" fill="#ff4510"/><ellipse cx="459.1" cy="94.65" rx="3" ry="10.6" fill="#18a0f4"/><ellipse cx="458.3" cy="94.65" rx="1.8" ry="9.6" fill="#0230f0"/><ellipse cx="475.2" cy="94.65" rx="3" ry="10.6" fill="#ffa208"/><ellipse cx="476" cy="94.65" rx="1.7" ry="9.6" fill="#ff4510"/><ellipse cx="488.3" cy="94.65" rx="3" ry="10.6" fill="#18a0f4"/><ellipse cx="487.5" cy="94.65" rx="1.8" ry="9.6" fill="#0230f0"/><ellipse cx="504.4" cy="94.65" rx="3" ry="10.6" fill="#ffa208"/><ellipse cx="505.2" cy="94.65" rx="1.7" ry="9.6" fill="#ff4510"/><ellipse cx="517.5" cy="94.65" rx="3" ry="10.6" fill="#18a0f4"/><ellipse cx="516.7" cy="94.65" rx="1.8" ry="9.6" fill="#0230f0"/><ellipse cx="533.6" cy="94.65" rx="3" ry="10.6" fill="#ffa208"/><ellipse cx="534.4" cy="94.65" rx="1.7" ry="9.6" fill="#ff4510"/><ellipse cx="429.9" cy="123.55" rx="3" ry="10.6" fill="#18a0f4"/><ellipse cx="429.1" cy="123.55" rx="1.8" ry="9.6" fill="#0230f0"/><ellipse cx="446" cy="123.55" rx="3" ry="10.6" fill="#ffa208"/><ellipse cx="446.8" cy="123.55" rx="1.7" ry="9.6" fill="#ff4510"/><ellipse cx="459.1" cy="123.55" rx="3" ry="10.6" fill="#18a0f4"/><ellipse cx="458.3" cy="123.55" rx="1.8" ry="9.6" fill="#0230f0"/><ellipse cx="475.2" cy="123.55" rx="3" ry="10.6" fill="#ffa208"/><ellipse cx="476" cy="123.55" rx="1.7" ry="9.6" fill="#ff4510"/><ellipse cx="488.3" cy="123.55" rx="3" ry="10.6" fill="#18a0f4"/><ellipse cx="487.5" cy="123.55" rx="1.8" ry="9.6" fill="#0230f0"/><ellipse cx="504.4" cy="123.55" rx="3" ry="10.6" fill="#ffa208"/><ellipse cx="505.2" cy="123.55" rx="1.7" ry="9.6" fill="#ff4510"/><ellipse cx="517.5" cy="123.55" rx="3" ry="10.6" fill="#18a0f4"/><ellipse cx="516.7" cy="123.55" rx="1.8" ry="9.6" fill="#0230f0"/><ellipse cx="533.6" cy="123.55" rx="3" ry="10.6" fill="#ffa208"/><ellipse cx="534.4" cy="123.55" rx="1.7" ry="9.6" fill="#ff4510"/></g>
<rect x="423.4" y="22.4" width="117" height="116.2" fill="none" stroke="#108828" stroke-opacity="0.6" stroke-width="1"/><g fill="none" stroke="#1a3a20" stroke-opacity="0.62" stroke-width="0.5" filter="url(#b2)"><rect x="427.3" y="26.5" width="21.2" height="20.7" rx="1.6"/><rect x="456.5" y="26.5" width="21.2" height="20.7" rx="1.6"/><rect x="485.7" y="26.5" width="21.2" height="20.7" rx="1.6"/><rect x="514.9" y="26.5" width="21.2" height="20.7" rx="1.6"/><rect x="427.3" y="55.4" width="21.2" height="20.7" rx="1.6"/><rect x="456.5" y="55.4" width="21.2" height="20.7" rx="1.6"/><rect x="485.7" y="55.4" width="21.2" height="20.7" rx="1.6"/><rect x="514.9" y="55.4" width="21.2" height="20.7" rx="1.6"/><rect x="427.3" y="84.3" width="21.2" height="20.7" rx="1.6"/><rect x="456.5" y="84.3" width="21.2" height="20.7" rx="1.6"/><rect x="485.7" y="84.3" width="21.2" height="20.7" rx="1.6"/><rect x="514.9" y="84.3" width="21.2" height="20.7" rx="1.6"/><rect x="427.3" y="113.2" width="21.2" height="20.7" rx="1.6"/><rect x="456.5" y="113.2" width="21.2" height="20.7" rx="1.6"/><rect x="485.7" y="113.2" width="21.2" height="20.7" rx="1.6"/><rect x="514.9" y="113.2" width="21.2" height="20.7" rx="1.6"/></g></g>
<text class="c" x="414.1" y="168" textLength="80.6" lengthAdjust="spacing">(c) 100 μm</text>
</g>
<g id="panel-d">
<text class="t" x="9.4" y="187.4">Pressure</text>
<text class="t2" x="9.4" y="196" textLength="28" lengthAdjust="spacingAndGlyphs">Contour 1</text>
<rect x="7.2" y="198.6" width="8.5" height="11.58" fill="#ff4510"/><rect x="7.2" y="209.88" width="8.5" height="11.58" fill="#ffa208"/><rect x="7.2" y="221.16" width="8.5" height="11.58" fill="#fff200"/><rect x="7.2" y="232.44" width="8.5" height="11.58" fill="#8cf020"/><rect x="7.2" y="243.72" width="8.5" height="11.58" fill="#00e01c"/><rect x="7.2" y="255" width="8.5" height="11.58" fill="#00f070"/><rect x="7.2" y="266.28" width="8.5" height="11.58" fill="#00f2b8"/><rect x="7.2" y="277.56" width="8.5" height="11.58" fill="#00f0fa"/><rect x="7.2" y="288.84" width="8.5" height="11.58" fill="#1a92f2"/><rect x="7.2" y="300.12" width="8.5" height="11.28" fill="#0230f0"/>
<text class="l" x="21.1" y="202.3">3.624×10<tspan class="s" dy="-2.1">4</tspan></text><text class="l" x="21.1" y="213.66">2.883×10<tspan class="s" dy="-2.1">4</tspan></text><text class="l" x="21.1" y="225.02">2.142×10<tspan class="s" dy="-2.1">4</tspan></text><text class="l" x="21.1" y="236.38">1.401×10<tspan class="s" dy="-2.1">4</tspan></text><text class="l" x="21.1" y="247.74">6.595×10<tspan class="s" dy="-2.1">3</tspan></text><text class="l" x="21.1" y="259.1">-8.173×10<tspan class="s" dy="-2.1">2</tspan></text><text class="l" x="21.1" y="270.46">-8.230×10<tspan class="s" dy="-2.1">3</tspan></text><text class="l" x="21.1" y="281.82">-1.564×10<tspan class="s" dy="-2.1">4</tspan></text><text class="l" x="21.1" y="293.18">-2.305×10<tspan class="s" dy="-2.1">4</tspan></text><text class="l" x="21.1" y="304.54">-3.047×10<tspan class="s" dy="-2.1">4</tspan></text><text class="l" x="21.1" y="315.9">-3.788×10<tspan class="s" dy="-2.1">4</tspan></text>
<text class="u" x="9.2" y="324.3">[Pa]</text>
<g clip-path="url(#cd)"><g filter="url(#bl)"><rect x="53.7" y="194.1" width="126.4" height="125.4" fill="url(#qd)"/><g filter="url(#bv)"><rect x="53.7" y="200" width="126.4" height="23.7" fill="url(#gd)"/><rect x="53.7" y="230" width="126.4" height="23.7" fill="url(#gd)"/><rect x="53.7" y="260" width="126.4" height="23.7" fill="url(#gd)"/><rect x="53.7" y="290" width="126.4" height="23.7" fill="url(#gd)"/></g><rect x="58.1" y="194.1" width="1.9" height="125.4" fill="#00f0e8"/><ellipse cx="63" cy="211.85" rx="2.6" ry="11" fill="#18a0f4"/><ellipse cx="62.2" cy="211.85" rx="1.5" ry="10" fill="#0230f0"/><ellipse cx="80.3" cy="211.85" rx="2.7" ry="11" fill="#ffa208"/><ellipse cx="81.1" cy="211.85" rx="1.5" ry="10" fill="#ff4510"/><ellipse cx="93.1" cy="211.85" rx="2.6" ry="11" fill="#18a0f4"/><ellipse cx="92.3" cy="211.85" rx="1.5" ry="10" fill="#0230f0"/><ellipse cx="110.4" cy="211.85" rx="2.7" ry="11" fill="#ffa208"/><ellipse cx="111.2" cy="211.85" rx="1.5" ry="10" fill="#ff4510"/><ellipse cx="123.2" cy="211.85" rx="2.6" ry="11" fill="#18a0f4"/><ellipse cx="122.4" cy="211.85" rx="1.5" ry="10" fill="#0230f0"/><ellipse cx="140.5" cy="211.85" rx="2.7" ry="11" fill="#ffa208"/><ellipse cx="141.3" cy="211.85" rx="1.5" ry="10" fill="#ff4510"/><ellipse cx="153.3" cy="211.85" rx="2.6" ry="11" fill="#18a0f4"/><ellipse cx="152.5" cy="211.85" rx="1.5" ry="10" fill="#0230f0"/><ellipse cx="170.6" cy="211.85" rx="2.7" ry="11" fill="#ffa208"/><ellipse cx="171.4" cy="211.85" rx="1.5" ry="10" fill="#ff4510"/><ellipse cx="63" cy="241.85" rx="2.6" ry="11" fill="#18a0f4"/><ellipse cx="62.2" cy="241.85" rx="1.5" ry="10" fill="#0230f0"/><ellipse cx="80.3" cy="241.85" rx="2.7" ry="11" fill="#ffa208"/><ellipse cx="81.1" cy="241.85" rx="1.5" ry="10" fill="#ff4510"/><ellipse cx="93.1" cy="241.85" rx="2.6" ry="11" fill="#18a0f4"/><ellipse cx="92.3" cy="241.85" rx="1.5" ry="10" fill="#0230f0"/><ellipse cx="110.4" cy="241.85" rx="2.7" ry="11" fill="#ffa208"/><ellipse cx="111.2" cy="241.85" rx="1.5" ry="10" fill="#ff4510"/><ellipse cx="123.2" cy="241.85" rx="2.6" ry="11" fill="#18a0f4"/><ellipse cx="122.4" cy="241.85" rx="1.5" ry="10" fill="#0230f0"/><ellipse cx="140.5" cy="241.85" rx="2.7" ry="11" fill="#ffa208"/><ellipse cx="141.3" cy="241.85" rx="1.5" ry="10" fill="#ff4510"/><ellipse cx="153.3" cy="241.85" rx="2.6" ry="11" fill="#18a0f4"/><ellipse cx="152.5" cy="241.85" rx="1.5" ry="10" fill="#0230f0"/><ellipse cx="170.6" cy="241.85" rx="2.7" ry="11" fill="#ffa208"/><ellipse cx="171.4" cy="241.85" rx="1.5" ry="10" fill="#ff4510"/><ellipse cx="63" cy="271.85" rx="2.6" ry="11" fill="#18a0f4"/><ellipse cx="62.2" cy="271.85" rx="1.5" ry="10" fill="#0230f0"/><ellipse cx="80.3" cy="271.85" rx="2.7" ry="11" fill="#ffa208"/><ellipse cx="81.1" cy="271.85" rx="1.5" ry="10" fill="#ff4510"/><ellipse cx="93.1" cy="271.85" rx="2.6" ry="11" fill="#18a0f4"/><ellipse cx="92.3" cy="271.85" rx="1.5" ry="10" fill="#0230f0"/><ellipse cx="110.4" cy="271.85" rx="2.7" ry="11" fill="#ffa208"/><ellipse cx="111.2" cy="271.85" rx="1.5" ry="10" fill="#ff4510"/><ellipse cx="123.2" cy="271.85" rx="2.6" ry="11" fill="#18a0f4"/><ellipse cx="122.4" cy="271.85" rx="1.5" ry="10" fill="#0230f0"/><ellipse cx="140.5" cy="271.85" rx="2.7" ry="11" fill="#ffa208"/><ellipse cx="141.3" cy="271.85" rx="1.5" ry="10" fill="#ff4510"/><ellipse cx="153.3" cy="271.85" rx="2.6" ry="11" fill="#18a0f4"/><ellipse cx="152.5" cy="271.85" rx="1.5" ry="10" fill="#0230f0"/><ellipse cx="170.6" cy="271.85" rx="2.7" ry="11" fill="#ffa208"/><ellipse cx="171.4" cy="271.85" rx="1.5" ry="10" fill="#ff4510"/><ellipse cx="63" cy="301.85" rx="2.6" ry="11" fill="#18a0f4"/><ellipse cx="62.2" cy="301.85" rx="1.5" ry="10" fill="#0230f0"/><ellipse cx="80.3" cy="301.85" rx="2.7" ry="11" fill="#ffa208"/><ellipse cx="81.1" cy="301.85" rx="1.5" ry="10" fill="#ff4510"/><ellipse cx="93.1" cy="301.85" rx="2.6" ry="11" fill="#18a0f4"/><ellipse cx="92.3" cy="301.85" rx="1.5" ry="10" fill="#0230f0"/><ellipse cx="110.4" cy="301.85" rx="2.7" ry="11" fill="#ffa208"/><ellipse cx="111.2" cy="301.85" rx="1.5" ry="10" fill="#ff4510"/><ellipse cx="123.2" cy="301.85" rx="2.6" ry="11" fill="#18a0f4"/><ellipse cx="122.4" cy="301.85" rx="1.5" ry="10" fill="#0230f0"/><ellipse cx="140.5" cy="301.85" rx="2.7" ry="11" fill="#ffa208"/><ellipse cx="141.3" cy="301.85" rx="1.5" ry="10" fill="#ff4510"/><ellipse cx="153.3" cy="301.85" rx="2.6" ry="11" fill="#18a0f4"/><ellipse cx="152.5" cy="301.85" rx="1.5" ry="10" fill="#0230f0"/><ellipse cx="170.6" cy="301.85" rx="2.7" ry="11" fill="#ffa208"/><ellipse cx="171.4" cy="301.85" rx="1.5" ry="10" fill="#ff4510"/></g>
<rect x="56.7" y="197.1" width="120.4" height="119.4" fill="none" stroke="#108828" stroke-opacity="0.6" stroke-width="1"/><g fill="none" stroke="#1a3a20" stroke-opacity="0.62" stroke-width="0.5" filter="url(#b2)"><rect x="60.8" y="201.2" width="21.7" height="21.3" rx="1.6"/><rect x="90.9" y="201.2" width="21.7" height="21.3" rx="1.6"/><rect x="121" y="201.2" width="21.7" height="21.3" rx="1.6"/><rect x="151.1" y="201.2" width="21.7" height="21.3" rx="1.6"/><rect x="60.8" y="231.2" width="21.7" height="21.3" rx="1.6"/><rect x="90.9" y="231.2" width="21.7" height="21.3" rx="1.6"/><rect x="121" y="231.2" width="21.7" height="21.3" rx="1.6"/><rect x="151.1" y="231.2" width="21.7" height="21.3" rx="1.6"/><rect x="60.8" y="261.2" width="21.7" height="21.3" rx="1.6"/><rect x="90.9" y="261.2" width="21.7" height="21.3" rx="1.6"/><rect x="121" y="261.2" width="21.7" height="21.3" rx="1.6"/><rect x="151.1" y="261.2" width="21.7" height="21.3" rx="1.6"/><rect x="60.8" y="291.2" width="21.7" height="21.3" rx="1.6"/><rect x="90.9" y="291.2" width="21.7" height="21.3" rx="1.6"/><rect x="121" y="291.2" width="21.7" height="21.3" rx="1.6"/><rect x="151.1" y="291.2" width="21.7" height="21.3" rx="1.6"/></g></g>
<text class="c" x="50.1" y="346" textLength="81.6" lengthAdjust="spacing">(d) 150 μm</text>
</g>
<g id="panel-e">
<text class="t" x="194.8" y="187.4">Pressure</text>
<text class="t2" x="194.8" y="196" textLength="28" lengthAdjust="spacingAndGlyphs">Contour 1</text>
<rect x="193.5" y="198.6" width="8.3" height="11.58" fill="#ff4510"/><rect x="193.5" y="209.88" width="8.3" height="11.58" fill="#ffa208"/><rect x="193.5" y="221.16" width="8.3" height="11.58" fill="#fff200"/><rect x="193.5" y="232.44" width="8.3" height="11.58" fill="#8cf020"/><rect x="193.5" y="243.72" width="8.3" height="11.58" fill="#00e01c"/><rect x="193.5" y="255" width="8.3" height="11.58" fill="#00f070"/><rect x="193.5" y="266.28" width="8.3" height="11.58" fill="#00f2b8"/><rect x="193.5" y="277.56" width="8.3" height="11.58" fill="#00f0fa"/><rect x="193.5" y="288.84" width="8.3" height="11.58" fill="#1a92f2"/><rect x="193.5" y="300.12" width="8.3" height="11.28" fill="#0230f0"/>
<text class="l" x="206.4" y="202.3">5.152×10<tspan class="s" dy="-2.1">4</tspan></text><text class="l" x="206.4" y="213.66">4.152×10<tspan class="s" dy="-2.1">4</tspan></text><text class="l" x="206.4" y="225.02">3.152×10<tspan class="s" dy="-2.1">4</tspan></text><text class="l" x="206.4" y="236.38">2.152×10<tspan class="s" dy="-2.1">4</tspan></text><text class="l" x="206.4" y="247.74">1.152×10<tspan class="s" dy="-2.1">4</tspan></text><text class="l" x="206.4" y="259.1">1.525×10<tspan class="s" dy="-2.1">3</tspan></text><text class="l" x="206.4" y="270.46">-8.474×10<tspan class="s" dy="-2.1">3</tspan></text><text class="l" x="206.4" y="281.82">-1.847×10<tspan class="s" dy="-2.1">4</tspan></text><text class="l" x="206.4" y="293.18">-2.847×10<tspan class="s" dy="-2.1">4</tspan></text><text class="l" x="206.4" y="304.54">-3.847×10<tspan class="s" dy="-2.1">4</tspan></text><text class="l" x="206.4" y="315.9">-4.847×10<tspan class="s" dy="-2.1">4</tspan></text>
<text class="u" x="194.4" y="324.5">[Pa]</text>
<g clip-path="url(#ce)"><g filter="url(#bl)"><rect x="238.1" y="193.5" width="125.3" height="124.9" fill="url(#qe)"/><g filter="url(#bv)"><rect x="238.1" y="199.2" width="125.3" height="24.1" fill="url(#ge)"/><rect x="238.1" y="229.1" width="125.3" height="24.1" fill="url(#ge)"/><rect x="238.1" y="259" width="125.3" height="24.1" fill="url(#ge)"/><rect x="238.1" y="288.9" width="125.3" height="24.1" fill="url(#ge)"/></g><rect x="242.5" y="193.5" width="1.8" height="124.9" fill="#00f0e8"/><ellipse cx="247.3" cy="211.25" rx="2.6" ry="11.2" fill="#18a0f4"/><ellipse cx="246.5" cy="211.25" rx="1.5" ry="10.2" fill="#0230f0"/><ellipse cx="265.2" cy="211.25" rx="2.7" ry="11.2" fill="#ffa208"/><ellipse cx="266" cy="211.25" rx="1.5" ry="10.2" fill="#ff4510"/><ellipse cx="277.13" cy="211.25" rx="2.6" ry="11.2" fill="#18a0f4"/><ellipse cx="276.33" cy="211.25" rx="1.5" ry="10.2" fill="#0230f0"/><ellipse cx="295.03" cy="211.25" rx="2.7" ry="11.2" fill="#ffa208"/><ellipse cx="295.83" cy="211.25" rx="1.5" ry="10.2" fill="#ff4510"/><ellipse cx="306.96" cy="211.25" rx="2.6" ry="11.2" fill="#18a0f4"/><ellipse cx="306.16" cy="211.25" rx="1.5" ry="10.2" fill="#0230f0"/><ellipse cx="324.86" cy="211.25" rx="2.7" ry="11.2" fill="#ffa208"/><ellipse cx="325.66" cy="211.25" rx="1.5" ry="10.2" fill="#ff4510"/><ellipse cx="336.79" cy="211.25" rx="2.6" ry="11.2" fill="#18a0f4"/><ellipse cx="335.99" cy="211.25" rx="1.5" ry="10.2" fill="#0230f0"/><ellipse cx="354.69" cy="211.25" rx="2.7" ry="11.2" fill="#ffa208"/><ellipse cx="355.49" cy="211.25" rx="1.5" ry="10.2" fill="#ff4510"/><ellipse cx="247.3" cy="241.15" rx="2.6" ry="11.2" fill="#18a0f4"/><ellipse cx="246.5" cy="241.15" rx="1.5" ry="10.2" fill="#0230f0"/><ellipse cx="265.2" cy="241.15" rx="2.7" ry="11.2" fill="#ffa208"/><ellipse cx="266" cy="241.15" rx="1.5" ry="10.2" fill="#ff4510"/><ellipse cx="277.13" cy="241.15" rx="2.6" ry="11.2" fill="#18a0f4"/><ellipse cx="276.33" cy="241.15" rx="1.5" ry="10.2" fill="#0230f0"/><ellipse cx="295.03" cy="241.15" rx="2.7" ry="11.2" fill="#ffa208"/><ellipse cx="295.83" cy="241.15" rx="1.5" ry="10.2" fill="#ff4510"/><ellipse cx="306.96" cy="241.15" rx="2.6" ry="11.2" fill="#18a0f4"/><ellipse cx="306.16" cy="241.15" rx="1.5" ry="10.2" fill="#0230f0"/><ellipse cx="324.86" cy="241.15" rx="2.7" ry="11.2" fill="#ffa208"/><ellipse cx="325.66" cy="241.15" rx="1.5" ry="10.2" fill="#ff4510"/><ellipse cx="336.79" cy="241.15" rx="2.6" ry="11.2" fill="#18a0f4"/><ellipse cx="335.99" cy="241.15" rx="1.5" ry="10.2" fill="#0230f0"/><ellipse cx="354.69" cy="241.15" rx="2.7" ry="11.2" fill="#ffa208"/><ellipse cx="355.49" cy="241.15" rx="1.5" ry="10.2" fill="#ff4510"/><ellipse cx="247.3" cy="271.05" rx="2.6" ry="11.2" fill="#18a0f4"/><ellipse cx="246.5" cy="271.05" rx="1.5" ry="10.2" fill="#0230f0"/><ellipse cx="265.2" cy="271.05" rx="2.7" ry="11.2" fill="#ffa208"/><ellipse cx="266" cy="271.05" rx="1.5" ry="10.2" fill="#ff4510"/><ellipse cx="277.13" cy="271.05" rx="2.6" ry="11.2" fill="#18a0f4"/><ellipse cx="276.33" cy="271.05" rx="1.5" ry="10.2" fill="#0230f0"/><ellipse cx="295.03" cy="271.05" rx="2.7" ry="11.2" fill="#ffa208"/><ellipse cx="295.83" cy="271.05" rx="1.5" ry="10.2" fill="#ff4510"/><ellipse cx="306.96" cy="271.05" rx="2.6" ry="11.2" fill="#18a0f4"/><ellipse cx="306.16" cy="271.05" rx="1.5" ry="10.2" fill="#0230f0"/><ellipse cx="324.86" cy="271.05" rx="2.7" ry="11.2" fill="#ffa208"/><ellipse cx="325.66" cy="271.05" rx="1.5" ry="10.2" fill="#ff4510"/><ellipse cx="336.79" cy="271.05" rx="2.6" ry="11.2" fill="#18a0f4"/><ellipse cx="335.99" cy="271.05" rx="1.5" ry="10.2" fill="#0230f0"/><ellipse cx="354.69" cy="271.05" rx="2.7" ry="11.2" fill="#ffa208"/><ellipse cx="355.49" cy="271.05" rx="1.5" ry="10.2" fill="#ff4510"/><ellipse cx="247.3" cy="300.95" rx="2.6" ry="11.2" fill="#18a0f4"/><ellipse cx="246.5" cy="300.95" rx="1.5" ry="10.2" fill="#0230f0"/><ellipse cx="265.2" cy="300.95" rx="2.7" ry="11.2" fill="#ffa208"/><ellipse cx="266" cy="300.95" rx="1.5" ry="10.2" fill="#ff4510"/><ellipse cx="277.13" cy="300.95" rx="2.6" ry="11.2" fill="#18a0f4"/><ellipse cx="276.33" cy="300.95" rx="1.5" ry="10.2" fill="#0230f0"/><ellipse cx="295.03" cy="300.95" rx="2.7" ry="11.2" fill="#ffa208"/><ellipse cx="295.83" cy="300.95" rx="1.5" ry="10.2" fill="#ff4510"/><ellipse cx="306.96" cy="300.95" rx="2.6" ry="11.2" fill="#18a0f4"/><ellipse cx="306.16" cy="300.95" rx="1.5" ry="10.2" fill="#0230f0"/><ellipse cx="324.86" cy="300.95" rx="2.7" ry="11.2" fill="#ffa208"/><ellipse cx="325.66" cy="300.95" rx="1.5" ry="10.2" fill="#ff4510"/><ellipse cx="336.79" cy="300.95" rx="2.6" ry="11.2" fill="#18a0f4"/><ellipse cx="335.99" cy="300.95" rx="1.5" ry="10.2" fill="#0230f0"/><ellipse cx="354.69" cy="300.95" rx="2.7" ry="11.2" fill="#ffa208"/><ellipse cx="355.49" cy="300.95" rx="1.5" ry="10.2" fill="#ff4510"/></g>
<rect x="241.1" y="196.5" width="119.3" height="118.9" fill="none" stroke="#108828" stroke-opacity="0.6" stroke-width="1"/><g fill="none" stroke="#1a3a20" stroke-opacity="0.62" stroke-width="0.5" filter="url(#b2)"><rect x="245.1" y="200.4" width="22.2" height="21.7" rx="1.6"/><rect x="274.93" y="200.4" width="22.2" height="21.7" rx="1.6"/><rect x="304.76" y="200.4" width="22.2" height="21.7" rx="1.6"/><rect x="334.59" y="200.4" width="22.2" height="21.7" rx="1.6"/><rect x="245.1" y="230.3" width="22.2" height="21.7" rx="1.6"/><rect x="274.93" y="230.3" width="22.2" height="21.7" rx="1.6"/><rect x="304.76" y="230.3" width="22.2" height="21.7" rx="1.6"/><rect x="334.59" y="230.3" width="22.2" height="21.7" rx="1.6"/><rect x="245.1" y="260.2" width="22.2" height="21.7" rx="1.6"/><rect x="274.93" y="260.2" width="22.2" height="21.7" rx="1.6"/><rect x="304.76" y="260.2" width="22.2" height="21.7" rx="1.6"/><rect x="334.59" y="260.2" width="22.2" height="21.7" rx="1.6"/><rect x="245.1" y="290.1" width="22.2" height="21.7" rx="1.6"/><rect x="274.93" y="290.1" width="22.2" height="21.7" rx="1.6"/><rect x="304.76" y="290.1" width="22.2" height="21.7" rx="1.6"/><rect x="334.59" y="290.1" width="22.2" height="21.7" rx="1.6"/></g></g>
<text class="c" x="238.1" y="346" textLength="80.6" lengthAdjust="spacing">(e) 200 μm</text>
</g>
<g id="panel-f">
<text class="t" x="375.2" y="187.4">Pressure</text>
<text class="t2" x="375.2" y="196" textLength="28" lengthAdjust="spacingAndGlyphs">Contour 1</text>
<rect x="373.9" y="198.6" width="8.1" height="11.58" fill="#ff4510"/><rect x="373.9" y="209.88" width="8.1" height="11.58" fill="#ffa208"/><rect x="373.9" y="221.16" width="8.1" height="11.58" fill="#fff200"/><rect x="373.9" y="232.44" width="8.1" height="11.58" fill="#8cf020"/><rect x="373.9" y="243.72" width="8.1" height="11.58" fill="#00e01c"/><rect x="373.9" y="255" width="8.1" height="11.58" fill="#00f070"/><rect x="373.9" y="266.28" width="8.1" height="11.58" fill="#00f2b8"/><rect x="373.9" y="277.56" width="8.1" height="11.58" fill="#00f0fa"/><rect x="373.9" y="288.84" width="8.1" height="11.58" fill="#1a92f2"/><rect x="373.9" y="300.12" width="8.1" height="11.28" fill="#0230f0"/>
<text class="l" x="386.6" y="202.3">7.683×10<tspan class="s" dy="-2.1">4</tspan></text><text class="l" x="386.6" y="213.66">6.178×10<tspan class="s" dy="-2.1">4</tspan></text><text class="l" x="386.6" y="225.02">4.674×10<tspan class="s" dy="-2.1">4</tspan></text><text class="l" x="386.6" y="236.38">3.169×10<tspan class="s" dy="-2.1">4</tspan></text><text class="l" x="386.6" y="247.74">1.664×10<tspan class="s" dy="-2.1">4</tspan></text><text class="l" x="386.6" y="259.1">1.596×10<tspan class="s" dy="-2.1">3</tspan></text><text class="l" x="386.6" y="270.46">-1.345×10<tspan class="s" dy="-2.1">4</tspan></text><text class="l" x="386.6" y="281.82">-2.850×10<tspan class="s" dy="-2.1">4</tspan></text><text class="l" x="386.6" y="293.18">-4.354×10<tspan class="s" dy="-2.1">4</tspan></text><text class="l" x="386.6" y="304.54">-5.859×10<tspan class="s" dy="-2.1">4</tspan></text><text class="l" x="386.6" y="315.9">-7.364×10<tspan class="s" dy="-2.1">4</tspan></text>
<text class="u" x="374.8" y="324.5">[Pa]</text>
<g clip-path="url(#cf)"><g filter="url(#bl)"><rect x="420.3" y="194.3" width="126" height="125.5" fill="url(#qf)"/><g filter="url(#bv)"><rect x="420.3" y="200" width="126" height="24.1" fill="url(#gf)"/><rect x="420.3" y="230" width="126" height="24.1" fill="url(#gf)"/><rect x="420.3" y="260" width="126" height="24.1" fill="url(#gf)"/><rect x="420.3" y="290" width="126" height="24.1" fill="url(#gf)"/></g><rect x="424.7" y="194.3" width="1.6" height="125.5" fill="#00f0e8"/><ellipse cx="429.3" cy="212.05" rx="2.6" ry="11.2" fill="#18a0f4"/><ellipse cx="428.5" cy="212.05" rx="1.5" ry="10.2" fill="#0230f0"/><ellipse cx="447.2" cy="212.05" rx="2.7" ry="11.2" fill="#ffa208"/><ellipse cx="448" cy="212.05" rx="1.5" ry="10.2" fill="#ff4510"/><ellipse cx="459.3" cy="212.05" rx="2.6" ry="11.2" fill="#18a0f4"/><ellipse cx="458.5" cy="212.05" rx="1.5" ry="10.2" fill="#0230f0"/><ellipse cx="477.2" cy="212.05" rx="2.7" ry="11.2" fill="#ffa208"/><ellipse cx="478" cy="212.05" rx="1.5" ry="10.2" fill="#ff4510"/><ellipse cx="489.3" cy="212.05" rx="2.6" ry="11.2" fill="#18a0f4"/><ellipse cx="488.5" cy="212.05" rx="1.5" ry="10.2" fill="#0230f0"/><ellipse cx="507.2" cy="212.05" rx="2.7" ry="11.2" fill="#ffa208"/><ellipse cx="508" cy="212.05" rx="1.5" ry="10.2" fill="#ff4510"/><ellipse cx="519.3" cy="212.05" rx="2.6" ry="11.2" fill="#18a0f4"/><ellipse cx="518.5" cy="212.05" rx="1.5" ry="10.2" fill="#0230f0"/><ellipse cx="537.2" cy="212.05" rx="2.7" ry="11.2" fill="#ffa208"/><ellipse cx="538" cy="212.05" rx="1.5" ry="10.2" fill="#ff4510"/><ellipse cx="429.3" cy="242.05" rx="2.6" ry="11.2" fill="#18a0f4"/><ellipse cx="428.5" cy="242.05" rx="1.5" ry="10.2" fill="#0230f0"/><ellipse cx="447.2" cy="242.05" rx="2.7" ry="11.2" fill="#ffa208"/><ellipse cx="448" cy="242.05" rx="1.5" ry="10.2" fill="#ff4510"/><ellipse cx="459.3" cy="242.05" rx="2.6" ry="11.2" fill="#18a0f4"/><ellipse cx="458.5" cy="242.05" rx="1.5" ry="10.2" fill="#0230f0"/><ellipse cx="477.2" cy="242.05" rx="2.7" ry="11.2" fill="#ffa208"/><ellipse cx="478" cy="242.05" rx="1.5" ry="10.2" fill="#ff4510"/><ellipse cx="489.3" cy="242.05" rx="2.6" ry="11.2" fill="#18a0f4"/><ellipse cx="488.5" cy="242.05" rx="1.5" ry="10.2" fill="#0230f0"/><ellipse cx="507.2" cy="242.05" rx="2.7" ry="11.2" fill="#ffa208"/><ellipse cx="508" cy="242.05" rx="1.5" ry="10.2" fill="#ff4510"/><ellipse cx="519.3" cy="242.05" rx="2.6" ry="11.2" fill="#18a0f4"/><ellipse cx="518.5" cy="242.05" rx="1.5" ry="10.2" fill="#0230f0"/><ellipse cx="537.2" cy="242.05" rx="2.7" ry="11.2" fill="#ffa208"/><ellipse cx="538" cy="242.05" rx="1.5" ry="10.2" fill="#ff4510"/><ellipse cx="429.3" cy="272.05" rx="2.6" ry="11.2" fill="#18a0f4"/><ellipse cx="428.5" cy="272.05" rx="1.5" ry="10.2" fill="#0230f0"/><ellipse cx="447.2" cy="272.05" rx="2.7" ry="11.2" fill="#ffa208"/><ellipse cx="448" cy="272.05" rx="1.5" ry="10.2" fill="#ff4510"/><ellipse cx="459.3" cy="272.05" rx="2.6" ry="11.2" fill="#18a0f4"/><ellipse cx="458.5" cy="272.05" rx="1.5" ry="10.2" fill="#0230f0"/><ellipse cx="477.2" cy="272.05" rx="2.7" ry="11.2" fill="#ffa208"/><ellipse cx="478" cy="272.05" rx="1.5" ry="10.2" fill="#ff4510"/><ellipse cx="489.3" cy="272.05" rx="2.6" ry="11.2" fill="#18a0f4"/><ellipse cx="488.5" cy="272.05" rx="1.5" ry="10.2" fill="#0230f0"/><ellipse cx="507.2" cy="272.05" rx="2.7" ry="11.2" fill="#ffa208"/><ellipse cx="508" cy="272.05" rx="1.5" ry="10.2" fill="#ff4510"/><ellipse cx="519.3" cy="272.05" rx="2.6" ry="11.2" fill="#18a0f4"/><ellipse cx="518.5" cy="272.05" rx="1.5" ry="10.2" fill="#0230f0"/><ellipse cx="537.2" cy="272.05" rx="2.7" ry="11.2" fill="#ffa208"/><ellipse cx="538" cy="272.05" rx="1.5" ry="10.2" fill="#ff4510"/><ellipse cx="429.3" cy="302.05" rx="2.6" ry="11.2" fill="#18a0f4"/><ellipse cx="428.5" cy="302.05" rx="1.5" ry="10.2" fill="#0230f0"/><ellipse cx="447.2" cy="302.05" rx="2.7" ry="11.2" fill="#ffa208"/><ellipse cx="448" cy="302.05" rx="1.5" ry="10.2" fill="#ff4510"/><ellipse cx="459.3" cy="302.05" rx="2.6" ry="11.2" fill="#18a0f4"/><ellipse cx="458.5" cy="302.05" rx="1.5" ry="10.2" fill="#0230f0"/><ellipse cx="477.2" cy="302.05" rx="2.7" ry="11.2" fill="#ffa208"/><ellipse cx="478" cy="302.05" rx="1.5" ry="10.2" fill="#ff4510"/><ellipse cx="489.3" cy="302.05" rx="2.6" ry="11.2" fill="#18a0f4"/><ellipse cx="488.5" cy="302.05" rx="1.5" ry="10.2" fill="#0230f0"/><ellipse cx="507.2" cy="302.05" rx="2.7" ry="11.2" fill="#ffa208"/><ellipse cx="508" cy="302.05" rx="1.5" ry="10.2" fill="#ff4510"/><ellipse cx="519.3" cy="302.05" rx="2.6" ry="11.2" fill="#18a0f4"/><ellipse cx="518.5" cy="302.05" rx="1.5" ry="10.2" fill="#0230f0"/><ellipse cx="537.2" cy="302.05" rx="2.7" ry="11.2" fill="#ffa208"/><ellipse cx="538" cy="302.05" rx="1.5" ry="10.2" fill="#ff4510"/></g>
<rect x="423.3" y="197.3" width="120" height="119.5" fill="none" stroke="#108828" stroke-opacity="0.6" stroke-width="1"/><g fill="none" stroke="#1a3a20" stroke-opacity="0.62" stroke-width="0.5" filter="url(#b2)"><rect x="427.1" y="201.2" width="22.2" height="21.7" rx="1.6"/><rect x="457.1" y="201.2" width="22.2" height="21.7" rx="1.6"/><rect x="487.1" y="201.2" width="22.2" height="21.7" rx="1.6"/><rect x="517.1" y="201.2" width="22.2" height="21.7" rx="1.6"/><rect x="427.1" y="231.2" width="22.2" height="21.7" rx="1.6"/><rect x="457.1" y="231.2" width="22.2" height="21.7" rx="1.6"/><rect x="487.1" y="231.2" width="22.2" height="21.7" rx="1.6"/><rect x="517.1" y="231.2" width="22.2" height="21.7" rx="1.6"/><rect x="427.1" y="261.2" width="22.2" height="21.7" rx="1.6"/><rect x="457.1" y="261.2" width="22.2" height="21.7" rx="1.6"/><rect x="487.1" y="261.2" width="22.2" height="21.7" rx="1.6"/><rect x="517.1" y="261.2" width="22.2" height="21.7" rx="1.6"/><rect x="427.1" y="291.2" width="22.2" height="21.7" rx="1.6"/><rect x="457.1" y="291.2" width="22.2" height="21.7" rx="1.6"/><rect x="487.1" y="291.2" width="22.2" height="21.7" rx="1.6"/><rect x="517.1" y="291.2" width="22.2" height="21.7" rx="1.6"/></g></g>
<text class="c" x="415.1" y="346" textLength="78.6" lengthAdjust="spacing">(f) 300 μm</text>
</g>
<g id="panel-g">
<text class="t" x="9.4" y="365.7">Pressure</text>
<text class="t2" x="9.4" y="374.4" textLength="28" lengthAdjust="spacingAndGlyphs">Contour 1</text>
<rect x="7.2" y="377" width="8.8" height="11.57" fill="#ff4510"/><rect x="7.2" y="388.27" width="8.8" height="11.57" fill="#ffa208"/><rect x="7.2" y="399.54" width="8.8" height="11.57" fill="#fff200"/><rect x="7.2" y="410.81" width="8.8" height="11.57" fill="#8cf020"/><rect x="7.2" y="422.08" width="8.8" height="11.57" fill="#00e01c"/><rect x="7.2" y="433.35" width="8.8" height="11.57" fill="#00f070"/><rect x="7.2" y="444.62" width="8.8" height="11.57" fill="#00f2b8"/><rect x="7.2" y="455.89" width="8.8" height="11.57" fill="#00f0fa"/><rect x="7.2" y="467.16" width="8.8" height="11.57" fill="#1a92f2"/><rect x="7.2" y="478.43" width="8.8" height="11.27" fill="#0230f0"/>
<text class="l" x="19.6" y="380.7">1.037×10<tspan class="s" dy="-2.1">5</tspan></text><text class="l" x="19.6" y="392.06">8.338×10<tspan class="s" dy="-2.1">4</tspan></text><text class="l" x="19.6" y="403.42">6.306×10<tspan class="s" dy="-2.1">4</tspan></text><text class="l" x="19.6" y="414.78">4.273×10<tspan class="s" dy="-2.1">4</tspan></text><text class="l" x="19.6" y="426.14">2.241×10<tspan class="s" dy="-2.1">4</tspan></text><text class="l" x="19.6" y="437.5">2.090×10<tspan class="s" dy="-2.1">3</tspan></text><text class="l" x="19.6" y="448.86">-1.823×10<tspan class="s" dy="-2.1">4</tspan></text><text class="l" x="19.6" y="460.22">-3.855×10<tspan class="s" dy="-2.1">4</tspan></text><text class="l" x="19.6" y="471.58">-5.888×10<tspan class="s" dy="-2.1">4</tspan></text><text class="l" x="19.6" y="482.94">-7.920×10<tspan class="s" dy="-2.1">4</tspan></text><text class="l" x="19.6" y="494.3">-9.952×10<tspan class="s" dy="-2.1">4</tspan></text>
<text class="u" x="7.2" y="502.4">[Pa]</text>
<g clip-path="url(#cg)"><g filter="url(#bl)"><rect x="50" y="373.8" width="125.1" height="124.1" fill="url(#qg)"/><g filter="url(#bv)"><rect x="50" y="379.9" width="125.1" height="23.4" fill="url(#gg)"/><rect x="50" y="409.5" width="125.1" height="23.4" fill="url(#gg)"/><rect x="50" y="439.1" width="125.1" height="23.4" fill="url(#gg)"/><rect x="50" y="468.7" width="125.1" height="23.4" fill="url(#gg)"/></g><ellipse cx="58.8" cy="391.6" rx="2.1" ry="11" fill="#18a0f4"/><ellipse cx="58" cy="391.6" rx="1.1" ry="10" fill="#0230f0"/><ellipse cx="76.9" cy="391.6" rx="2.4" ry="11" fill="#ffa208"/><ellipse cx="77.7" cy="391.6" rx="1.2" ry="10" fill="#ff4510"/><ellipse cx="88.5" cy="391.6" rx="2.1" ry="11" fill="#18a0f4"/><ellipse cx="87.7" cy="391.6" rx="1.1" ry="10" fill="#0230f0"/><ellipse cx="106.6" cy="391.6" rx="2.4" ry="11" fill="#ffa208"/><ellipse cx="107.4" cy="391.6" rx="1.2" ry="10" fill="#ff4510"/><ellipse cx="118.2" cy="391.6" rx="2.1" ry="11" fill="#18a0f4"/><ellipse cx="117.4" cy="391.6" rx="1.1" ry="10" fill="#0230f0"/><ellipse cx="136.3" cy="391.6" rx="2.4" ry="11" fill="#ffa208"/><ellipse cx="137.1" cy="391.6" rx="1.2" ry="10" fill="#ff4510"/><ellipse cx="147.9" cy="391.6" rx="2.1" ry="11" fill="#18a0f4"/><ellipse cx="147.1" cy="391.6" rx="1.1" ry="10" fill="#0230f0"/><ellipse cx="166" cy="391.6" rx="2.4" ry="11" fill="#ffa208"/><ellipse cx="166.8" cy="391.6" rx="1.2" ry="10" fill="#ff4510"/><ellipse cx="58.8" cy="421.2" rx="2.1" ry="11" fill="#18a0f4"/><ellipse cx="58" cy="421.2" rx="1.1" ry="10" fill="#0230f0"/><ellipse cx="76.9" cy="421.2" rx="2.4" ry="11" fill="#ffa208"/><ellipse cx="77.7" cy="421.2" rx="1.2" ry="10" fill="#ff4510"/><ellipse cx="88.5" cy="421.2" rx="2.1" ry="11" fill="#18a0f4"/><ellipse cx="87.7" cy="421.2" rx="1.1" ry="10" fill="#0230f0"/><ellipse cx="106.6" cy="421.2" rx="2.4" ry="11" fill="#ffa208"/><ellipse cx="107.4" cy="421.2" rx="1.2" ry="10" fill="#ff4510"/><ellipse cx="118.2" cy="421.2" rx="2.1" ry="11" fill="#18a0f4"/><ellipse cx="117.4" cy="421.2" rx="1.1" ry="10" fill="#0230f0"/><ellipse cx="136.3" cy="421.2" rx="2.4" ry="11" fill="#ffa208"/><ellipse cx="137.1" cy="421.2" rx="1.2" ry="10" fill="#ff4510"/><ellipse cx="147.9" cy="421.2" rx="2.1" ry="11" fill="#18a0f4"/><ellipse cx="147.1" cy="421.2" rx="1.1" ry="10" fill="#0230f0"/><ellipse cx="166" cy="421.2" rx="2.4" ry="11" fill="#ffa208"/><ellipse cx="166.8" cy="421.2" rx="1.2" ry="10" fill="#ff4510"/><ellipse cx="58.8" cy="450.8" rx="2.1" ry="11" fill="#18a0f4"/><ellipse cx="58" cy="450.8" rx="1.1" ry="10" fill="#0230f0"/><ellipse cx="76.9" cy="450.8" rx="2.4" ry="11" fill="#ffa208"/><ellipse cx="77.7" cy="450.8" rx="1.2" ry="10" fill="#ff4510"/><ellipse cx="88.5" cy="450.8" rx="2.1" ry="11" fill="#18a0f4"/><ellipse cx="87.7" cy="450.8" rx="1.1" ry="10" fill="#0230f0"/><ellipse cx="106.6" cy="450.8" rx="2.4" ry="11" fill="#ffa208"/><ellipse cx="107.4" cy="450.8" rx="1.2" ry="10" fill="#ff4510"/><ellipse cx="118.2" cy="450.8" rx="2.1" ry="11" fill="#18a0f4"/><ellipse cx="117.4" cy="450.8" rx="1.1" ry="10" fill="#0230f0"/><ellipse cx="136.3" cy="450.8" rx="2.4" ry="11" fill="#ffa208"/><ellipse cx="137.1" cy="450.8" rx="1.2" ry="10" fill="#ff4510"/><ellipse cx="147.9" cy="450.8" rx="2.1" ry="11" fill="#18a0f4"/><ellipse cx="147.1" cy="450.8" rx="1.1" ry="10" fill="#0230f0"/><ellipse cx="166" cy="450.8" rx="2.4" ry="11" fill="#ffa208"/><ellipse cx="166.8" cy="450.8" rx="1.2" ry="10" fill="#ff4510"/><ellipse cx="58.8" cy="480.4" rx="2.1" ry="11" fill="#18a0f4"/><ellipse cx="58" cy="480.4" rx="1.1" ry="10" fill="#0230f0"/><ellipse cx="76.9" cy="480.4" rx="2.4" ry="11" fill="#ffa208"/><ellipse cx="77.7" cy="480.4" rx="1.2" ry="10" fill="#ff4510"/><ellipse cx="88.5" cy="480.4" rx="2.1" ry="11" fill="#18a0f4"/><ellipse cx="87.7" cy="480.4" rx="1.1" ry="10" fill="#0230f0"/><ellipse cx="106.6" cy="480.4" rx="2.4" ry="11" fill="#ffa208"/><ellipse cx="107.4" cy="480.4" rx="1.2" ry="10" fill="#ff4510"/><ellipse cx="118.2" cy="480.4" rx="2.1" ry="11" fill="#18a0f4"/><ellipse cx="117.4" cy="480.4" rx="1.1" ry="10" fill="#0230f0"/><ellipse cx="136.3" cy="480.4" rx="2.4" ry="11" fill="#ffa208"/><ellipse cx="137.1" cy="480.4" rx="1.2" ry="10" fill="#ff4510"/><ellipse cx="147.9" cy="480.4" rx="2.1" ry="11" fill="#18a0f4"/><ellipse cx="147.1" cy="480.4" rx="1.1" ry="10" fill="#0230f0"/><ellipse cx="166" cy="480.4" rx="2.4" ry="11" fill="#ffa208"/><ellipse cx="166.8" cy="480.4" rx="1.2" ry="10" fill="#ff4510"/></g>
<rect x="53" y="376.8" width="119.1" height="118.1" fill="none" stroke="#108828" stroke-opacity="0.6" stroke-width="1"/><g fill="none" stroke="#1a3a20" stroke-opacity="0.62" stroke-width="0.5" filter="url(#b2)"><rect x="56.9" y="381.1" width="22" height="21" rx="1.6"/><rect x="86.6" y="381.1" width="22" height="21" rx="1.6"/><rect x="116.3" y="381.1" width="22" height="21" rx="1.6"/><rect x="146" y="381.1" width="22" height="21" rx="1.6"/><rect x="56.9" y="410.7" width="22" height="21" rx="1.6"/><rect x="86.6" y="410.7" width="22" height="21" rx="1.6"/><rect x="116.3" y="410.7" width="22" height="21" rx="1.6"/><rect x="146" y="410.7" width="22" height="21" rx="1.6"/><rect x="56.9" y="440.3" width="22" height="21" rx="1.6"/><rect x="86.6" y="440.3" width="22" height="21" rx="1.6"/><rect x="116.3" y="440.3" width="22" height="21" rx="1.6"/><rect x="146" y="440.3" width="22" height="21" rx="1.6"/><rect x="56.9" y="469.9" width="22" height="21" rx="1.6"/><rect x="86.6" y="469.9" width="22" height="21" rx="1.6"/><rect x="116.3" y="469.9" width="22" height="21" rx="1.6"/><rect x="146" y="469.9" width="22" height="21" rx="1.6"/></g></g>
<text class="c" x="50.1" y="524.6" textLength="82" lengthAdjust="spacing">(g) 400 μm</text>
</g>
<g id="panel-h">
<text class="t" x="195.2" y="365.7">Pressure</text>
<text class="t2" x="195.2" y="374.4" textLength="28" lengthAdjust="spacingAndGlyphs">Contour 1</text>
<rect x="193.5" y="377" width="8.3" height="11.57" fill="#ff4510"/><rect x="193.5" y="388.27" width="8.3" height="11.57" fill="#ffa208"/><rect x="193.5" y="399.54" width="8.3" height="11.57" fill="#fff200"/><rect x="193.5" y="410.81" width="8.3" height="11.57" fill="#8cf020"/><rect x="193.5" y="422.08" width="8.3" height="11.57" fill="#00e01c"/><rect x="193.5" y="433.35" width="8.3" height="11.57" fill="#00f070"/><rect x="193.5" y="444.62" width="8.3" height="11.57" fill="#00f2b8"/><rect x="193.5" y="455.89" width="8.3" height="11.57" fill="#00f0fa"/><rect x="193.5" y="467.16" width="8.3" height="11.57" fill="#1a92f2"/><rect x="193.5" y="478.43" width="8.3" height="11.27" fill="#0230f0"/>
<text class="l" x="206.6" y="380.7">1.260×10<tspan class="s" dy="-2.1">5</tspan></text><text class="l" x="206.6" y="392.06">1.009×10<tspan class="s" dy="-2.1">5</tspan></text><text class="l" x="206.6" y="403.42">7.578×10<tspan class="s" dy="-2.1">4</tspan></text><text class="l" x="206.6" y="414.78">5.068×10<tspan class="s" dy="-2.1">4</tspan></text><text class="l" x="206.6" y="426.14">2.558×10<tspan class="s" dy="-2.1">4</tspan></text><text class="l" x="206.6" y="437.5">4.750×10<tspan class="s" dy="-2.1">2</tspan></text><text class="l" x="206.6" y="448.86">-2.463×10<tspan class="s" dy="-2.1">4</tspan></text><text class="l" x="206.6" y="460.22">-4.973×10<tspan class="s" dy="-2.1">4</tspan></text><text class="l" x="206.6" y="471.58">-7.483×10<tspan class="s" dy="-2.1">4</tspan></text><text class="l" x="206.6" y="482.94">-9.994×10<tspan class="s" dy="-2.1">4</tspan></text><text class="l" x="206.6" y="494.3">-1.250×10<tspan class="s" dy="-2.1">5</tspan></text>
<text class="u" x="194.8" y="502.4">[Pa]</text>
<g clip-path="url(#ch)"><g filter="url(#bl)"><rect x="240.1" y="373.8" width="123.2" height="122.5" fill="url(#qh)"/><g filter="url(#bv)"><rect x="240.1" y="379.8" width="123.2" height="23.3" fill="url(#gh)"/><rect x="240.1" y="408.9" width="123.2" height="23.3" fill="url(#gh)"/><rect x="240.1" y="438" width="123.2" height="23.3" fill="url(#gh)"/><rect x="240.1" y="467.1" width="123.2" height="23.3" fill="url(#gh)"/></g><ellipse cx="249.2" cy="391.45" rx="2.2" ry="11" fill="#18a0f4"/><ellipse cx="248.4" cy="391.45" rx="1.2" ry="10" fill="#0230f0"/><ellipse cx="266.5" cy="391.45" rx="2.3" ry="11" fill="#ffa208"/><ellipse cx="267.3" cy="391.45" rx="1.2" ry="10" fill="#ff4510"/><ellipse cx="278.47" cy="391.45" rx="2.2" ry="11" fill="#18a0f4"/><ellipse cx="277.67" cy="391.45" rx="1.2" ry="10" fill="#0230f0"/><ellipse cx="295.77" cy="391.45" rx="2.3" ry="11" fill="#ffa208"/><ellipse cx="296.57" cy="391.45" rx="1.2" ry="10" fill="#ff4510"/><ellipse cx="307.74" cy="391.45" rx="2.2" ry="11" fill="#18a0f4"/><ellipse cx="306.94" cy="391.45" rx="1.2" ry="10" fill="#0230f0"/><ellipse cx="325.04" cy="391.45" rx="2.3" ry="11" fill="#ffa208"/><ellipse cx="325.84" cy="391.45" rx="1.2" ry="10" fill="#ff4510"/><ellipse cx="337.01" cy="391.45" rx="2.2" ry="11" fill="#18a0f4"/><ellipse cx="336.21" cy="391.45" rx="1.2" ry="10" fill="#0230f0"/><ellipse cx="354.31" cy="391.45" rx="2.3" ry="11" fill="#ffa208"/><ellipse cx="355.11" cy="391.45" rx="1.2" ry="10" fill="#ff4510"/><ellipse cx="249.2" cy="420.55" rx="2.2" ry="11" fill="#18a0f4"/><ellipse cx="248.4" cy="420.55" rx="1.2" ry="10" fill="#0230f0"/><ellipse cx="266.5" cy="420.55" rx="2.3" ry="11" fill="#ffa208"/><ellipse cx="267.3" cy="420.55" rx="1.2" ry="10" fill="#ff4510"/><ellipse cx="278.47" cy="420.55" rx="2.2" ry="11" fill="#18a0f4"/><ellipse cx="277.67" cy="420.55" rx="1.2" ry="10" fill="#0230f0"/><ellipse cx="295.77" cy="420.55" rx="2.3" ry="11" fill="#ffa208"/><ellipse cx="296.57" cy="420.55" rx="1.2" ry="10" fill="#ff4510"/><ellipse cx="307.74" cy="420.55" rx="2.2" ry="11" fill="#18a0f4"/><ellipse cx="306.94" cy="420.55" rx="1.2" ry="10" fill="#0230f0"/><ellipse cx="325.04" cy="420.55" rx="2.3" ry="11" fill="#ffa208"/><ellipse cx="325.84" cy="420.55" rx="1.2" ry="10" fill="#ff4510"/><ellipse cx="337.01" cy="420.55" rx="2.2" ry="11" fill="#18a0f4"/><ellipse cx="336.21" cy="420.55" rx="1.2" ry="10" fill="#0230f0"/><ellipse cx="354.31" cy="420.55" rx="2.3" ry="11" fill="#ffa208"/><ellipse cx="355.11" cy="420.55" rx="1.2" ry="10" fill="#ff4510"/><ellipse cx="249.2" cy="449.65" rx="2.2" ry="11" fill="#18a0f4"/><ellipse cx="248.4" cy="449.65" rx="1.2" ry="10" fill="#0230f0"/><ellipse cx="266.5" cy="449.65" rx="2.3" ry="11" fill="#ffa208"/><ellipse cx="267.3" cy="449.65" rx="1.2" ry="10" fill="#ff4510"/><ellipse cx="278.47" cy="449.65" rx="2.2" ry="11" fill="#18a0f4"/><ellipse cx="277.67" cy="449.65" rx="1.2" ry="10" fill="#0230f0"/><ellipse cx="295.77" cy="449.65" rx="2.3" ry="11" fill="#ffa208"/><ellipse cx="296.57" cy="449.65" rx="1.2" ry="10" fill="#ff4510"/><ellipse cx="307.74" cy="449.65" rx="2.2" ry="11" fill="#18a0f4"/><ellipse cx="306.94" cy="449.65" rx="1.2" ry="10" fill="#0230f0"/><ellipse cx="325.04" cy="449.65" rx="2.3" ry="11" fill="#ffa208"/><ellipse cx="325.84" cy="449.65" rx="1.2" ry="10" fill="#ff4510"/><ellipse cx="337.01" cy="449.65" rx="2.2" ry="11" fill="#18a0f4"/><ellipse cx="336.21" cy="449.65" rx="1.2" ry="10" fill="#0230f0"/><ellipse cx="354.31" cy="449.65" rx="2.3" ry="11" fill="#ffa208"/><ellipse cx="355.11" cy="449.65" rx="1.2" ry="10" fill="#ff4510"/><ellipse cx="249.2" cy="478.75" rx="2.2" ry="11" fill="#18a0f4"/><ellipse cx="248.4" cy="478.75" rx="1.2" ry="10" fill="#0230f0"/><ellipse cx="266.5" cy="478.75" rx="2.3" ry="11" fill="#ffa208"/><ellipse cx="267.3" cy="478.75" rx="1.2" ry="10" fill="#ff4510"/><ellipse cx="278.47" cy="478.75" rx="2.2" ry="11" fill="#18a0f4"/><ellipse cx="277.67" cy="478.75" rx="1.2" ry="10" fill="#0230f0"/><ellipse cx="295.77" cy="478.75" rx="2.3" ry="11" fill="#ffa208"/><ellipse cx="296.57" cy="478.75" rx="1.2" ry="10" fill="#ff4510"/><ellipse cx="307.74" cy="478.75" rx="2.2" ry="11" fill="#18a0f4"/><ellipse cx="306.94" cy="478.75" rx="1.2" ry="10" fill="#0230f0"/><ellipse cx="325.04" cy="478.75" rx="2.3" ry="11" fill="#ffa208"/><ellipse cx="325.84" cy="478.75" rx="1.2" ry="10" fill="#ff4510"/><ellipse cx="337.01" cy="478.75" rx="2.2" ry="11" fill="#18a0f4"/><ellipse cx="336.21" cy="478.75" rx="1.2" ry="10" fill="#0230f0"/><ellipse cx="354.31" cy="478.75" rx="2.3" ry="11" fill="#ffa208"/><ellipse cx="355.11" cy="478.75" rx="1.2" ry="10" fill="#ff4510"/></g>
<rect x="243.1" y="376.8" width="117.2" height="116.5" fill="none" stroke="#108828" stroke-opacity="0.6" stroke-width="1"/><g fill="none" stroke="#1a3a20" stroke-opacity="0.62" stroke-width="0.5" filter="url(#b2)"><rect x="247.1" y="381" width="21.3" height="20.9" rx="1.6"/><rect x="276.37" y="381" width="21.3" height="20.9" rx="1.6"/><rect x="305.64" y="381" width="21.3" height="20.9" rx="1.6"/><rect x="334.91" y="381" width="21.3" height="20.9" rx="1.6"/><rect x="247.1" y="410.1" width="21.3" height="20.9" rx="1.6"/><rect x="276.37" y="410.1" width="21.3" height="20.9" rx="1.6"/><rect x="305.64" y="410.1" width="21.3" height="20.9" rx="1.6"/><rect x="334.91" y="410.1" width="21.3" height="20.9" rx="1.6"/><rect x="247.1" y="439.2" width="21.3" height="20.9" rx="1.6"/><rect x="276.37" y="439.2" width="21.3" height="20.9" rx="1.6"/><rect x="305.64" y="439.2" width="21.3" height="20.9" rx="1.6"/><rect x="334.91" y="439.2" width="21.3" height="20.9" rx="1.6"/><rect x="247.1" y="468.3" width="21.3" height="20.9" rx="1.6"/><rect x="276.37" y="468.3" width="21.3" height="20.9" rx="1.6"/><rect x="305.64" y="468.3" width="21.3" height="20.9" rx="1.6"/><rect x="334.91" y="468.3" width="21.3" height="20.9" rx="1.6"/></g></g>
<text class="c" x="237.7" y="524.6" textLength="81" lengthAdjust="spacing">(h) 500 μm</text>
</g>
<g id="panel-i">
<text class="t" x="376.5" y="366.2">Pressure</text>
<text class="t2" x="376.5" y="374.8" textLength="28" lengthAdjust="spacingAndGlyphs">Contour 1</text>
<rect x="375.2" y="377.9" width="8.1" height="11.57" fill="#ff4510"/><rect x="375.2" y="389.17" width="8.1" height="11.57" fill="#ffa208"/><rect x="375.2" y="400.44" width="8.1" height="11.57" fill="#fff200"/><rect x="375.2" y="411.71" width="8.1" height="11.57" fill="#8cf020"/><rect x="375.2" y="422.98" width="8.1" height="11.57" fill="#00e01c"/><rect x="375.2" y="434.25" width="8.1" height="11.57" fill="#00f070"/><rect x="375.2" y="445.52" width="8.1" height="11.57" fill="#00f2b8"/><rect x="375.2" y="456.79" width="8.1" height="11.57" fill="#00f0fa"/><rect x="375.2" y="468.06" width="8.1" height="11.57" fill="#1a92f2"/><rect x="375.2" y="479.33" width="8.1" height="11.27" fill="#0230f0"/>
<text class="l" x="387.9" y="381.2">1.500×10<tspan class="s" dy="-2.1">5</tspan></text><text class="l" x="387.9" y="392.56">1.205×10<tspan class="s" dy="-2.1">5</tspan></text><text class="l" x="387.9" y="403.92">9.099×10<tspan class="s" dy="-2.1">4</tspan></text><text class="l" x="387.9" y="415.28">6.148×10<tspan class="s" dy="-2.1">4</tspan></text><text class="l" x="387.9" y="426.64">3.196×10<tspan class="s" dy="-2.1">4</tspan></text><text class="l" x="387.9" y="438">2.440×10<tspan class="s" dy="-2.1">3</tspan></text><text class="l" x="387.9" y="449.36">-2.708×10<tspan class="s" dy="-2.1">4</tspan></text><text class="l" x="387.9" y="460.72">-5.660×10<tspan class="s" dy="-2.1">4</tspan></text><text class="l" x="387.9" y="472.08">-8.611×10<tspan class="s" dy="-2.1">4</tspan></text><text class="l" x="387.9" y="483.44">-1.156×10<tspan class="s" dy="-2.1">5</tspan></text><text class="l" x="387.9" y="494.8">-1.451×10<tspan class="s" dy="-2.1">5</tspan></text>
<text class="u" x="376.1" y="502.4">[Pa]</text>
<g clip-path="url(#ci)"><g filter="url(#bl)"><rect x="420.9" y="374" width="123.3" height="122.6" fill="url(#qi)"/><g filter="url(#bv)"><rect x="420.9" y="380" width="123.3" height="23.6" fill="url(#gi)"/><rect x="420.9" y="409.2" width="123.3" height="23.6" fill="url(#gi)"/><rect x="420.9" y="438.4" width="123.3" height="23.6" fill="url(#gi)"/><rect x="420.9" y="467.6" width="123.3" height="23.6" fill="url(#gi)"/></g><ellipse cx="429.5" cy="391.8" rx="2" ry="11" fill="#18a0f4"/><ellipse cx="428.7" cy="391.8" rx="1" ry="10" fill="#0230f0"/><ellipse cx="447.5" cy="391.8" rx="2.2" ry="11" fill="#ffa208"/><ellipse cx="448.3" cy="391.8" rx="1.1" ry="10" fill="#ff4510"/><ellipse cx="458.7" cy="391.8" rx="2" ry="11" fill="#18a0f4"/><ellipse cx="457.9" cy="391.8" rx="1" ry="10" fill="#0230f0"/><ellipse cx="476.7" cy="391.8" rx="2.2" ry="11" fill="#ffa208"/><ellipse cx="477.5" cy="391.8" rx="1.1" ry="10" fill="#ff4510"/><ellipse cx="487.9" cy="391.8" rx="2" ry="11" fill="#18a0f4"/><ellipse cx="487.1" cy="391.8" rx="1" ry="10" fill="#0230f0"/><ellipse cx="505.9" cy="391.8" rx="2.2" ry="11" fill="#ffa208"/><ellipse cx="506.7" cy="391.8" rx="1.1" ry="10" fill="#ff4510"/><ellipse cx="517.1" cy="391.8" rx="2" ry="11" fill="#18a0f4"/><ellipse cx="516.3" cy="391.8" rx="1" ry="10" fill="#0230f0"/><ellipse cx="535.1" cy="391.8" rx="2.2" ry="11" fill="#ffa208"/><ellipse cx="535.9" cy="391.8" rx="1.1" ry="10" fill="#ff4510"/><ellipse cx="429.5" cy="421" rx="2" ry="11" fill="#18a0f4"/><ellipse cx="428.7" cy="421" rx="1" ry="10" fill="#0230f0"/><ellipse cx="447.5" cy="421" rx="2.2" ry="11" fill="#ffa208"/><ellipse cx="448.3" cy="421" rx="1.1" ry="10" fill="#ff4510"/><ellipse cx="458.7" cy="421" rx="2" ry="11" fill="#18a0f4"/><ellipse cx="457.9" cy="421" rx="1" ry="10" fill="#0230f0"/><ellipse cx="476.7" cy="421" rx="2.2" ry="11" fill="#ffa208"/><ellipse cx="477.5" cy="421" rx="1.1" ry="10" fill="#ff4510"/><ellipse cx="487.9" cy="421" rx="2" ry="11" fill="#18a0f4"/><ellipse cx="487.1" cy="421" rx="1" ry="10" fill="#0230f0"/><ellipse cx="505.9" cy="421" rx="2.2" ry="11" fill="#ffa208"/><ellipse cx="506.7" cy="421" rx="1.1" ry="10" fill="#ff4510"/><ellipse cx="517.1" cy="421" rx="2" ry="11" fill="#18a0f4"/><ellipse cx="516.3" cy="421" rx="1" ry="10" fill="#0230f0"/><ellipse cx="535.1" cy="421" rx="2.2" ry="11" fill="#ffa208"/><ellipse cx="535.9" cy="421" rx="1.1" ry="10" fill="#ff4510"/><ellipse cx="429.5" cy="450.2" rx="2" ry="11" fill="#18a0f4"/><ellipse cx="428.7" cy="450.2" rx="1" ry="10" fill="#0230f0"/><ellipse cx="447.5" cy="450.2" rx="2.2" ry="11" fill="#ffa208"/><ellipse cx="448.3" cy="450.2" rx="1.1" ry="10" fill="#ff4510"/><ellipse cx="458.7" cy="450.2" rx="2" ry="11" fill="#18a0f4"/><ellipse cx="457.9" cy="450.2" rx="1" ry="10" fill="#0230f0"/><ellipse cx="476.7" cy="450.2" rx="2.2" ry="11" fill="#ffa208"/><ellipse cx="477.5" cy="450.2" rx="1.1" ry="10" fill="#ff4510"/><ellipse cx="487.9" cy="450.2" rx="2" ry="11" fill="#18a0f4"/><ellipse cx="487.1" cy="450.2" rx="1" ry="10" fill="#0230f0"/><ellipse cx="505.9" cy="450.2" rx="2.2" ry="11" fill="#ffa208"/><ellipse cx="506.7" cy="450.2" rx="1.1" ry="10" fill="#ff4510"/><ellipse cx="517.1" cy="450.2" rx="2" ry="11" fill="#18a0f4"/><ellipse cx="516.3" cy="450.2" rx="1" ry="10" fill="#0230f0"/><ellipse cx="535.1" cy="450.2" rx="2.2" ry="11" fill="#ffa208"/><ellipse cx="535.9" cy="450.2" rx="1.1" ry="10" fill="#ff4510"/><ellipse cx="429.5" cy="479.4" rx="2" ry="11" fill="#18a0f4"/><ellipse cx="428.7" cy="479.4" rx="1" ry="10" fill="#0230f0"/><ellipse cx="447.5" cy="479.4" rx="2.2" ry="11" fill="#ffa208"/><ellipse cx="448.3" cy="479.4" rx="1.1" ry="10" fill="#ff4510"/><ellipse cx="458.7" cy="479.4" rx="2" ry="11" fill="#18a0f4"/><ellipse cx="457.9" cy="479.4" rx="1" ry="10" fill="#0230f0"/><ellipse cx="476.7" cy="479.4" rx="2.2" ry="11" fill="#ffa208"/><ellipse cx="477.5" cy="479.4" rx="1.1" ry="10" fill="#ff4510"/><ellipse cx="487.9" cy="479.4" rx="2" ry="11" fill="#18a0f4"/><ellipse cx="487.1" cy="479.4" rx="1" ry="10" fill="#0230f0"/><ellipse cx="505.9" cy="479.4" rx="2.2" ry="11" fill="#ffa208"/><ellipse cx="506.7" cy="479.4" rx="1.1" ry="10" fill="#ff4510"/><ellipse cx="517.1" cy="479.4" rx="2" ry="11" fill="#18a0f4"/><ellipse cx="516.3" cy="479.4" rx="1" ry="10" fill="#0230f0"/><ellipse cx="535.1" cy="479.4" rx="2.2" ry="11" fill="#ffa208"/><ellipse cx="535.9" cy="479.4" rx="1.1" ry="10" fill="#ff4510"/></g>
<rect x="423.9" y="377" width="117.3" height="116.6" fill="none" stroke="#108828" stroke-opacity="0.6" stroke-width="1"/><g fill="none" stroke="#1a3a20" stroke-opacity="0.62" stroke-width="0.5" filter="url(#b2)"><rect x="427.5" y="381.2" width="21.9" height="21.2" rx="1.6"/><rect x="456.7" y="381.2" width="21.9" height="21.2" rx="1.6"/><rect x="485.9" y="381.2" width="21.9" height="21.2" rx="1.6"/><rect x="515.1" y="381.2" width="21.9" height="21.2" rx="1.6"/><rect x="427.5" y="410.4" width="21.9" height="21.2" rx="1.6"/><rect x="456.7" y="410.4" width="21.9" height="21.2" rx="1.6"/><rect x="485.9" y="410.4" width="21.9" height="21.2" rx="1.6"/><rect x="515.1" y="410.4" width="21.9" height="21.2" rx="1.6"/><rect x="427.5" y="439.6" width="21.9" height="21.2" rx="1.6"/><rect x="456.7" y="439.6" width="21.9" height="21.2" rx="1.6"/><rect x="485.9" y="439.6" width="21.9" height="21.2" rx="1.6"/><rect x="515.1" y="439.6" width="21.9" height="21.2" rx="1.6"/><rect x="427.5" y="468.8" width="21.9" height="21.2" rx="1.6"/><rect x="456.7" y="468.8" width="21.9" height="21.2" rx="1.6"/><rect x="485.9" y="468.8" width="21.9" height="21.2" rx="1.6"/><rect x="515.1" y="468.8" width="21.9" height="21.2" rx="1.6"/></g></g>
<text class="c" x="415.5" y="524.6" textLength="77.8" lengthAdjust="spacing">(i) 600 μm</text>
</g>
</svg>
</body>
</html>
